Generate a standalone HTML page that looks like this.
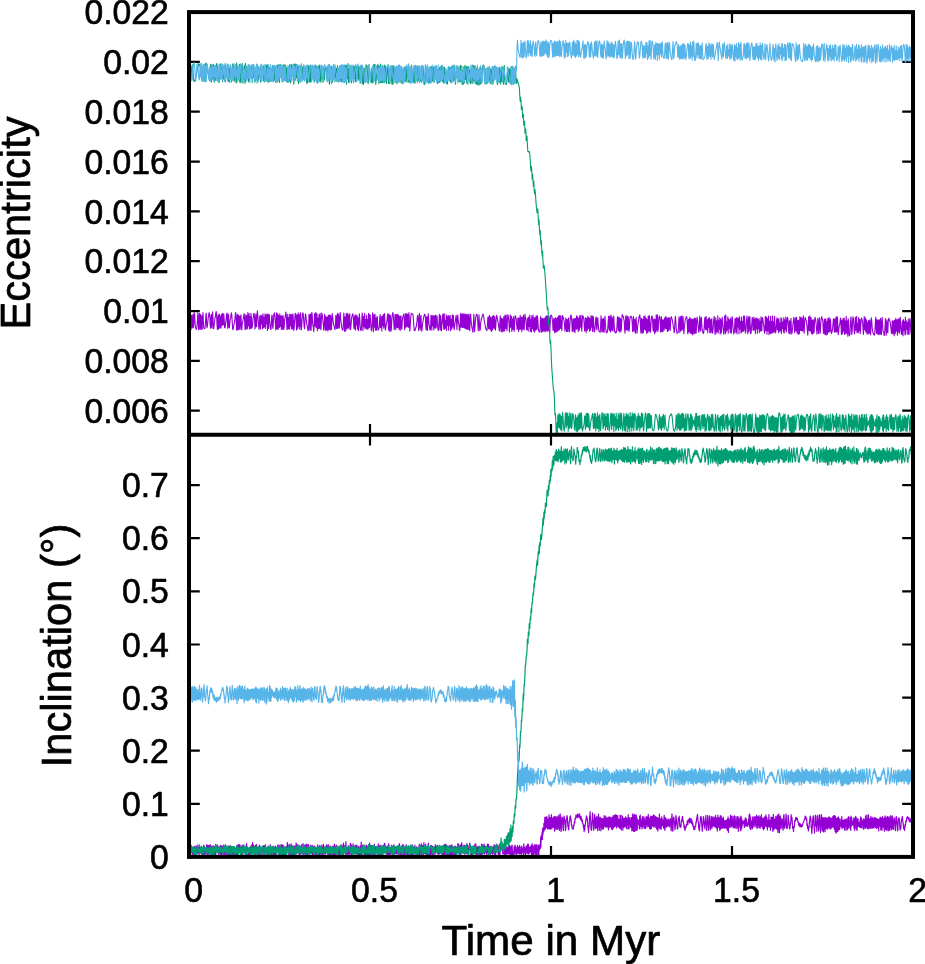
<!DOCTYPE html>
<html lang="en"><head><meta charset="utf-8"><title>Eccentricity and inclination vs time</title>
<style>html,body{margin:0;padding:0;background:#fff}body{width:925px;height:964px;overflow:hidden}svg{display:block}</style>
</head><body>
<svg role="img" aria-label="Eccentricity and inclination versus time in Myr" width="925" height="964" viewBox="0 0 925 964">
<rect width="925" height="964" fill="#fff"/>
<path id="ticks" d="M370.0,12.1v10.8M370.0,424.0v21.6M370.0,856.9v-10.8M551.0,12.1v10.8M551.0,424.0v21.6M551.0,856.9v-10.8M732.0,12.1v10.8M732.0,424.0v21.6M732.0,856.9v-10.8M189.0,410.7h10.8M913.0,410.7h-10.8M189.0,360.9h10.8M913.0,360.9h-10.8M189.0,311.1h10.8M913.0,311.1h-10.8M189.0,261.2h10.8M913.0,261.2h-10.8M189.0,211.4h10.8M913.0,211.4h-10.8M189.0,161.6h10.8M913.0,161.6h-10.8M189.0,111.7h10.8M913.0,111.7h-10.8M189.0,61.9h10.8M913.0,61.9h-10.8M189.0,803.8h10.8M913.0,803.8h-10.8M189.0,750.7h10.8M913.0,750.7h-10.8M189.0,697.6h10.8M913.0,697.6h-10.8M189.0,644.5h10.8M913.0,644.5h-10.8M189.0,591.3h10.8M913.0,591.3h-10.8M189.0,538.2h10.8M913.0,538.2h-10.8M189.0,485.1h10.8M913.0,485.1h-10.8" stroke="#000" stroke-width="2.2" fill="none"/>
<g id="curves-top" transform="scale(0.1)">
<path fill="none" stroke="#9400D3" stroke-width="11" stroke-linejoin="round" d="M1890 3125l4 88 4 74 4-152 4 47 4 112 4-144 4 19 4 111 4-104 4-32 4 133 4-33 4-118 4 17 4 74 4 50 4 14 4 12 4-1 4-27 4-56 4-81 4 50 4 119 4-105 4-58 4 157 4-97 4-52 4 153 4-109 4-27 4 133 4-108 4-58 4 94 4 59 4 9 4-4 4-2 4-37 4-79 4-36 4 96 4 50 4-13 4-38 4-50 4-14 4-34 4 5 4 32 4 90 4 27 4-109 4-30 4 139 4-47 4-115 4 65 4 102 4 0 4-40 4-31 4-37 4-11 4-38 4-13 4 34 4 96 4 48 4-115 4-31 4 143 4-102 4-48 4 140 4-118 4 21 4 97 4-138 4 80 4 35 4-126 4 114 4 1 4-108 4 59 4 80 4 1 4-32 4-31 4-30 4-45 4-10 4 97 4 56 4-143 4 11 4 119 4 7 4-44 4-43 4-6 4-41 4-15 4 21 4 67 4 71 4 9 4-21 4-24 4-19 4-16 4-35 4-42 4-15 4 86 4 89 4-112 4-45 4 158 4-111 4-40 4 145 4-134 4 11 4 121 4-128 4-17 4 114 4 37 4-55 4-20 4-24 4-25 4-27 4-12 4 71 4 89 4-106 4-41 4 144 4-137 4 31 4 100 4-161 4 134 4-40 4-84 4 155 4-128 4 33 4 88 4-152 4 49 4 102 4-8 4-34 4-53 4-24 4-31 4 3 4 61 4 93 4-86 4-62 4 127 4-3 4-118 4-41 4 46 4 46 4 57 4 38 4-30 4-106 4 24 4 107 4-138 4 90 4-13 4-70 4 130 4-149 4 138 4-103 4 21 4 75 4-131 4 145 4-134 4 76 4 13 4-101 4 166 4-161 4 94 4 47 4-142 4 8 4 72 4 34 4 39 4-1 4-59 4-81 4 0 4 109 4 21 4-76 4-59 4-13 4-7 4 44 4 63 4 64 4-87 4-84 4 161 4-82 4-69 4 155 4-139 4 55 4 64 4-137 4 128 4-45 4-63 4 138 4-135 4 48 4 85 4-140 4 40 4 102 4-25 4-63 4-32 4-18 4-36 4 20 4 83 4 74 4-97 4-59 4 149 4-99 4-17 4 116 4-150 4 119 4-28 4-90 4 148 4-141 4 53 4 88 4-153 4 70 4 98 4-29 4-65 4-55 4-22 4 4 4 95 4 67 4-152 4 68 4 70 4-159 4 137 4-35 4-87 4 152 4-90 4-77 4 126 4 45 4-50 4-73 4-40 4-6 4 30 4 59 4 56 4 14 4-88 4-62 4 12 4 44 4 29 4 25 4 25 4 26 4 8 4-42 4-122 4 6 4 150 4-77 4-81 4 164 4-72 4-111 4 24 4 79 4 34 4 21 4 37 4-84 4-98 4 106 4 23 4-142 4 155 4-59 4-80 4 169 4-123 4-4 4 106 4-142 4 83 4 58 4-151 4 95 4 67 4-106 4-59 4 15 4 31 4 39 4 44 4 42 4-42 4-117 4 39 4 121 4-141 4 31 4 106 4-129 4 27 4 112 4-156 4 49 4 96 4-149 4 48 4 104 4-147 4 34 4 107 4-68 4-91 4 26 4 36 4 33 4 21 4 12 4 19 4 13 4-35 4-107 4 4 4 127 4-59 4-92 4 152 4-41 4-105 4 121 4 20 4-109 4-48 4 53 4 38 4 35 4 27 4 15 4 9 4-5 4-62 4-103 4 60 4 124 4-145 4-1 4 140 4-174 4 85 4 67 4-154 4 143 4-40 4-89 4 144 4-69 4-87 4 114 4 46 4-43 4-42 4-41 4-14 4-16 4 5 4 40 4 87 4 19 4-133 4 47 4 95 4-150 4 97 4 6 4-100 4 140 4-113 4 1 4 127 4-102 4-66 4 60 4 66 4 32 4 9 4-12 4-85 4-78 4 71 4 103 4-142 4 48 4 57 4-132 4 150 4-90 4 3 4 84 4-132 4 143 4-102 4 9 4 88 4-155 4 118 4 25 4-132 4 7 4 65 4 65 4 27 4-15 4-75 4-92 4 87 4 104 4-171 4 81 4 44 4-132 4 162 4-122 4 8 4 114 4-139 4 15 4 92 4 30 4 0 4-19 4-23 4-92 4-21 4 133 4-63 4-47 4 143 4-151 4 75 4 21 4-114 4 141 4-56 4-92 4 108 4 59 4-22 4-30 4-25 4-20 4-43 4-24 4 91 4 74 4-162 4 72 4 100 4-161 4 21 4 139 4-31 4-74 4-56 4-16 4-10 4 47 4 56 4 69 4-38 4-117 4 98 4 56 4-151 4 103 4 26 4-131 4 134 4-48 4-79 4 141 4-79 4-49 4 142 4-104 4-43 4 122 4 12 4-66 4-47 4-11 4-16 4-11 4 54 4 101 4-34 4-127 4 137 4-6 4-128 4 123 4-3 4-118 4 134 4-5 4-143 4 105 4 78 4-48 4-77 4-36 4-12 4-3 4 5 4 5 4 5 4 48 4 49 4 59 4-6 4 9 4-22 4-6 4-13 4-23 4-34 4-46 4-12 4 48 4 106 4-53 4-120 4 118 4 50 4-128 4-19 4 118 4 42 4-36 4-41 4-22 4-27 4-19 4-14 4-11 4-1 4 33 4 93 4 32 4-133 4 1 4 137 4-77 4-89 4 41 4 61 4 26 4 27 4 8 4-36 4-114 4 72 4 76 4-146 4 106 4-9 4-92 4 142 4-143 4 84 4 40 4-132 4 130 4-8 4-113 4-2 4 74 4 55 4 19 4-4 4-83 4-75 4 87 4 68 4-142 4 56 4 97 4-49 4-40 4-65 4-14 4 92 4 60 4-157 4 156 4-89 4 14 4 64 4-132 4 157 4-144 4 82 4 11 4-99 4 147 4-142 4 91 4 8 4-105 4 152 4-115 4 29 4 68 4-140 4 120 4-25 4-92 4 113 4 31 4-35 4-28 4-23 4-38 4-20 4 81 4 63 4-113 4-32 4 49 4 32 4 16 4 52 4 6 4-77 4-97 4 140 4-2 4-130 4 130 4 5 4-139 4 124 4 17 4-140 4 121 4 26 4-141 4 111 4 37 4-148 4 108 4 42 4-147 4 93 4 55 4-154 4 93 4 75 4-120 4-47 4 55 4 44 4 27 4 20 4 17 4 19 4-82 4-98 4 74 4 99 4-48 4-56 4-44 4-10 4-15 4-1 4 21 4 62 4 83 4-66 4-93 4 77 4 80 4-7 4-61 4-27 4-29 4 1 4-24 4-4 4-15 4 9 4 26 4 29 4 23 4 15 4 29 4 19 4 2 4 10 4 3 4-48 4-80 4-7 4 113 4 5 4-135 4 77 4 66 4-125 4 19 4 124 4-109 4-42 4 137 4-64 4-80 4 120 4 10 4-123 4 43 4 96 4-38 4-80 4-30 4 15 4 14 4 29 4 15 4 24 4 39 4 20 4-66 4-87 4 69 4 88 4-133 4 12 4 127 4-133 4 21 4 104 4-146 4 41 4 102 4-158 4 98 4 39 4-135 4 92 4 61 4-99 4-61 4 13 4 30 4 44 4 86 4-60 4-111 4 124 4-10 4-99 4 152 4-126 4 16 4 90 4-129 4 50 4 97 4-74 4-71 4-11 4 11 4 22 4 46 4 57 4-3 4-109 4 21 4 112 4-135 4 34 4 81 4-140 4 137 4-43 4-77 4 147 4-145 4 55 4 63 4-140 4 117 4 32 4-117 4-40 4 34 4 26 4 40 4 50 4 6 4-118 4 25 4 105 4-141 4 83 4 12 4-115 4 164 4-98 4-26 4 131 4-164 4 111 4 17 4-134 4 158 4-80 4-49 4 142 4-149 4 51 4 79 4-146 4 109 4 29 4-138 4 39 4 72 4 39 4 8 4 6 4-6 4-52 4-98 4 20 4 137 4-120 4-20 4 136 4-130 4 7 4 116 4-128 4 29 4 105 4-150 4 60 4 82 4-151 4 68 4 85 4-150 4 68 4 77 4-147 4 65 4 101 4-88 4-74 4-12 4 2 4 8 4 29 4 22 4 88 4 4 4-123 4 10 4 136 4-122 4-26 4 143 4-136 4 14 4 118 4-144 4 48 4 86 4-150 4 86 4 54 4-144 4 104 4 26 4-125 4 103 4 46 4-85 4-68 4 12 4 10 4 17 4 20 4 44 4 54 4-24 4-108 4 13 4 124 4-116 4-5 4 118 4-100 4-37 4 111 4 32 4-57 4-61 4-43 4-9 4 14 4 61 4 86 4 0 4-123 4 2 4 128 4-108 4-21 4 137 4-144 4 57 4 54 4-135 4 129 4-46 4-72 4 145 4-130 4 49 4 68 4-146 4 116 4-5 4-113 4 122 4 37 4-93 4-63 4 5 4 10 4 21 4 52 4 65 4-4 4-130 4 27 4 126 4-146 4 48 4 72 4-139 4 121 4-30 4-80 4 138 4-126 4 29 4 88 4-145 4 114 4-3 4-110 4 155 4-77 4-72 4 96 4 52 4 7 4-33 4-51 4-60 4-4 4 116 4 9 4-113 4-5 4 67 4 39 4 28 4 5 4-1 4 6 4-60 4-104 4 51 4 106 4-120 4-6 4 130 4-137 4 35 4 104 4-106 4-54 4 77 4 54 4 23 4 13 4-7 4-3 4-36 4-73 4-47 4 117 4 26 4-145 4 94 4 64 4-169 4 104 4 49 4-133 4 68 4 72 4-113 4-37 4 95 4 65 4 0 4-2 4 13 4-12 4 0 4-60 4-87 4-4 4 130 4 10 4-137 4 70 4 82 4-141 4 9 4 122 4-23 4-96 4-49 4 12 4 6 4 0 4 29 4 17 4 80 4 43 4-99 4-74 4 133 4 7 4-141 4 115 4 29 4-135 4 49 4 98 4-33 4-77 4-38 4 5 4-8 4 4 4 12 4 45 4 93 4-15 4-136 4 59 4 88 4-120 4 13 4 126 4-125 4-34 4 105 4 53 4-34 4-44 4-30 4-20 4-35 4-9 4-10 4 42 4 106 4 36 4-151 4 13 4 137 4-139 4 19 4 114 4-164 4 102 4 29 4-136 4 146 4-60 4-62 4 151 4-136 4 30 4 101 4-167 4 102 4 47 4-153 4 74 4 93 4-12 4-75 4-58 4-18 4 1 4 48 4 88 4 15 4-120 4-3 4 148 4-142 4 31 4 95 4-172 4 154 4-45 4-109 4 168 4-23 4-81 4-40 4-13 4 8 4 60 4 92 4-80 4-71 4 149 4-105 4-14 4 119 4-120 4 48 4 53 4-120 4 85 4 18 4-119 4 127 4-32 4-81 4 137 4-80 4-55 4 128 4-60 4-69 4 104 4 22 4-92 4-42 4-1 4 13 4 16 4 19 4 25 4 31 4 16 4 37 4-21 4-107 4-36 4 51 4 67 4 27 4 26 4-3 4-2 4-6 4-72 4-83 4 23 4 134 4-76 4-83 4 145 4-41 4-110 4 140 4-20 4-114 4 74 4 99 4-41 4-50 4-30 4-27 4-5 4-14 4-6 4 23 4 87 4 62 4-129 4-16 4 128 4-104 4-43 4 159 4-111 4-32 4 148 4-134 4-12 4 156 4-141 4-10 4 140 4-155 4 44 4 111 4-153 4 43 4 103 4-102 4-55 4 16 4 40 4 40 4 46 4 10 4-94 4-69 4 125 4 24 4-118 4-19 4 77 4 47 4 14 4 17 4 8 4-13 4-58 4-72 4-22 4 124 4-9 4-120 4 134 4-52 4-51 4 130 4-144 4 79 4 12 4-98 4 150 4-131 4 36 4 99 4-136 4-6 4 116 4 27 4-31 4-54 4-57 4-26 4 65 4 118 4-105 4-64 4 154 4-123 4 40 4 66 4-156 4 174 4-130 4 64 4 25 4-114 4 163 4-146 4 53 4 82 4-124 4-31 4 53 4 50 4 30 4 35 4-58 4-127 4 82 4 98 4-189 4 170 4-100 4 4 4 80 4-135 4 165 4-144 4 97 4-23 4-65 4 131 4-147 4 73 4 77 4-117 4-49 4 50 4 54 4 46 4 24 4-12 4-45 4-100 4 6 4 137 4-71 4-79 4 162 4-155 4 82 4 6 4-90 4 157 4-172 4 128 4-46 4-33 4 115 4-158 4 148 4-106 4 26 4 76 4-154 4 147 4-29 4-119 4 86 4 84 4-11 4-50 4-70 4-39 4 52 4 126 4-70 4-101 4 151 4-43 4-109 4 77 4 92 4-1 4-43 4-58 4-58 4 11 4 116 4 0 4-132 4 130 4-37 4-72 4 145 4-155 4 107 4-15 4-93 4 152 4-139 4 77 4 19 4-103 4 140 4-115 4 35 4 64 4-142 4 119 4 23 4-124 4-12 4 31 4 34 4 24 4 44 4 24 4-71 4-98 4 146 4-46 4-92 4 173 4-158 4 71 4 52 4-148 4 188 4-137 4 29 4 91 4-169 4 176 4-124 4 18 4 92 4-166 4 173 4-112 4 23 4 75 4-154 4 96 4 70 4-8 4-48 4-73 4-22 4 122 4-24 4-89 4 141 4-139 4 123 4-64 4-17 4 77 4-132 4 158 4-145 4 97 4-29 4-37 4 100 4-145 4 156 4-134 4 64 4 36 4-127 4 151 4-20 4-103 4-24 4 10 4 50 4 75 4 25 4-127 4 20 4 112 4-117 4-40 4 113 4 45 4-23 4-40 4-37 4-28 4-40 4 40 4 116 4-38 4-112 4 128 4-17 4-117 4 158 4-92 4-35 4 141 4-142 4 43 4 93 4-170 4 106 4 31 4-133 4 134 4-17 4-108 4 131 4-33 4-120 4 130 4 42 4-107 4-45 4-3 4 21 4 6 4 27 4 35 4 48 4 39 4-87 4-96 4 121 4 16 4-147 4 153 4-19 4-120 4 163 4-99 4-40 4 142 4-114 4-26 4 132 4-20 4-100 4-38 4 12 4 22 4 36 4 53 4 46 4-45 4-113 4 38 4 112 4-96 4-60 4 116 4 40 4-61 4-75 4-20 4-12 4 25 4 5 4 49 4 84 4 7 4-127 4-18 4 153 4-93 4-62 4 161 4-126 4-7 4 126 4-158 4 76 4 60 4-148 4 112 4 34 4-130 4 21 4 83 4 41 4-5 4-21 4-23 4-46 4-52 4 8 4 113 4 13 4-135 4 83 4 53 4-156 4 127 4 25 4-149 4 95 4 83 4-31 4-44 4-18 4-12 4-38 4-24 4 74 4 91 4-142 4 38 4 96 4-155 4 131 4-15 4-117 4 164 4-137 4 44 4 86 4-176 4 170 4-83 4-41 4 155 4-175 4 22 4 127 4 22 4-12 4-39 4-103 4-37 4 77 4 101 4-40 4-100 4-38 4 13 4 59 4 76 4 24 4-78 4-90 4 130 4-10 4-128 4 164 4-95 4 2 4 92 4-152 4 135 4-41 4-75 4 142 4-36 4-89 4-31 4 5 4 18 4 19 4 60 4 63 4-67 4-112 4 130 4 0 4-117 4 140 4-63 4-59 4 143 4-114 4 2 4 112 4-136 4 49 4 79 4-133 4 45 4 103 4-98 4-70 4 35 4 65 4 32 4 15 4 13 4 6 4 6 4-2 4-53 4-82 4-42 4 119 4 44 4-140 4 42 4 106 4-143 4 55 4 92 4-150 4 45 4 101 4-161 4 56 4 108 4-113 4-59 4 75 4 54 4 21 4 4 4 28 4-16 4-63 4-92 4 48 4 120 4-114 4-41 4 127 4 2 4-99 4-44 4 5 4 7 4 16 4 7 4 41 4 27 4 48 4-6 4-118 4-2 4 132 4-99 4-34 4 149 4-156 4 47 4 86 4-152 4 131 4-39 4-77 4 156 4-159 4 78 4 48 4-135 4 147 4-57 4-103 4 61 4 67 4 42 4 0 4-115 4-18 4 149 4-163 4 110 4-26 4-64 4 132 4-173 4 165 4-131 4 85 4-19 4-49 4 118 4-153 4 69 4 85 4-89 4-71 4 22 4 60 4 67 4-19 4-119 4 51 4 95 4-163"/>
<path fill="none" stroke="#009E73" stroke-width="11" stroke-linejoin="round" d="M1890 737l4-96 4 99 4 68 4-118 4-38 4 117 4 23 4-111 4-33 4 68 4 68 4 27 4 4 4-13 4-4 4-8 4-13 4-14 4-30 4-22 4-25 4-15 4-11 4-21 4 2 4 0 4 17 4 10 4 13 4 18 4 36 4 57 4 21 4-51 4-101 4-15 4 106 4 65 4-45 4-99 4-35 4 1 4-9 4 20 4 25 4 14 4 12 4 38 4 6 4 40 4 20 4-18 4-88 4-57 4 100 4 77 4-117 4-50 4 137 4 1 4-148 4 73 4 107 4-132 4-34 4 142 4 6 4-119 4-50 4 14 4 19 4 34 4 48 4 36 4 41 4-86 4-100 4 101 4 48 4-151 4 143 4-45 4-59 4 140 4-170 4 142 4-64 4-30 4 95 4-142 4 168 4-155 4 109 4-37 4-46 4 117 4-164 4 172 4-123 4-2 4 135 4-107 4-67 4 55 4 83 4 36 4-46 4-99 4-36 4 129 4 22 4-156 4 178 4-107 4 13 4 76 4-152 4 185 4-199 4 189 4-147 4 86 4-14 4-47 4 104 4-159 4 179 4-176 4 72 4 109 4-78 4-95 4-18 4 98 4 98 4-149 4 32 4 79 4-141 4 179 4-199 4 184 4-154 4 102 4-35 4-28 4 83 4-121 4 153 4-168 4 159 4-142 4 99 4-38 4-34 4 88 4-127 4 171 4-173 4 115 4 10 4-125 4 50 4 97 4 23 4-59 4-69 4-32 4 130 4-42 4-77 4 150 4-159 4 139 4-99 4 37 4 26 4-97 4 151 4-171 4 162 4-137 4 87 4-29 4-50 4 125 4-155 4 51 4 98 4 15 4-45 4-76 4-49 4 131 4-25 4-102 4 170 4-160 4 61 4 98 4-145 4 4 4 101 4 35 4-1 4-32 4-42 4-61 4-27 4 60 4 104 4-74 4-87 4 148 4-68 4-66 4 156 4-136 4 14 4 116 4-168 4 92 4 60 4-154 4 90 4 85 4-124 4-47 4-10 4 22 4 41 4 45 4 68 4-47 4-123 4 116 4 18 4-136 4 145 4-31 4-110 4 158 4-78 4-58 4 147 4-127 4 17 4 115 4-162 4 77 4 72 4-166 4 78 4 106 4-78 4-95 4-14 4 21 4 25 4 46 4 65 4 42 4-88 4-115 4 113 4 49 4-157 4 126 4 9 4-137 4 168 4-80 4-66 4 172 4-120 4-54 4 96 4 57 4 6 4-18 4-41 4-26 4-67 4 9 4 117 4-27 4-119 4 132 4 25 4-129 4-8 4 63 4 52 4 35 4 16 4-11 4-73 4-96 4 24 4 141 4-83 4-81 4 166 4-101 4-65 4 162 4-33 4-109 4-23 4 12 4 23 4 68 4 65 4-47 4-126 4 136 4-22 4-105 4 166 4-100 4-51 4 159 4-172 4 89 4 54 4-151 4 162 4-84 4-44 4 138 4-170 4 110 4 19 4-120 4 160 4-119 4-25 4 125 4-10 4-90 4-35 4 1 4 7 4 57 4 75 4-9 4-142 4 93 4 48 4-154 4 198 4-175 4 103 4-16 4-86 4 166 4-170 4 51 4 108 4-32 4-51 4-49 4-32 4 63 4 94 4-136 4 82 4 8 4-86 4 128 4-157 4 160 4-126 4 64 4 14 4-87 4 135 4-157 4 149 4-86 4-38 4 138 4-58 4-104 4 7 4 69 4 78 4 11 4-91 4-82 4 141 4-19 4-120 4 189 4-183 4 128 4-39 4-57 4 133 4-176 4 171 4-119 4 33 4 58 4-140 4 178 4-157 4 101 4-11 4-95 4 159 4-169 4 131 4-37 4-85 4 150 4-33 4-99 4-19 4-4 4 18 4 107 4 18 4-144 4 128 4-10 4-111 4 165 4-167 4 89 4 36 4-138 4 185 4-132 4-7 4 147 4-156 4-8 4 123 4 24 4-65 4-63 4-50 4 1 4 4 4 69 4 96 4 17 4-117 4-74 4 20 4 57 4 59 4 35 4 4 4-132 4 11 4 133 4-163 4 79 4 74 4-181 4 168 4-43 4-123 4 132 4 68 4-46 4-49 4-29 4-41 4-34 4 14 4 125 4 52 4-175 4 91 4 73 4-185 4 184 4-113 4 2 4 115 4-175 4 170 4-106 4-4 4 114 4-177 4 159 4-60 4-87 4 136 4 36 4-72 4-71 4-37 4 49 4 132 4-118 4-30 4 148 4-174 4 144 4-69 4-28 4 132 4-184 4 88 4 100 4-112 4-75 4 11 4 46 4 54 4 58 4 0 4-120 4-38 4 170 4-118 4-7 4 103 4-158 4 164 4-142 4 93 4-20 4-52 4 126 4-157 4 159 4-124 4-2 4 135 4-66 4-77 4-25 4 40 4 102 4-30 4-116 4 155 4-141 4 96 4-8 4-71 4 126 4-165 4 160 4-90 4-46 4 144 4-29 4-105 4-41 4 33 4 69 4 62 4 4 4-111 4-29 4 154 4-116 4-1 4 112 4-172 4 150 4-74 4-8 4 85 4-151 4 150 4-94 4 7 4 97 4-155 4 149 4-91 4-2 4 100 4-160 4 145 4-22 4-121 4 60 4 97 4 28 4-2 4-13 4-88 4-85 4 116 4 28 4-134 4 149 4-61 4-70 4 146 4-129 4 27 4 94 4-156 4 97 4 32 4-131 4 143 4-39 4-101 4 147 4-66 4-82 4 141 4 6 4-91 4-44 4-16 4-2 4 19 4 95 4 62 4-129 4-17 4 134 4-89 4-61 4 148 4-71 4-86 4 141 4-21 4-135 4 129 4 35 4-146 4 70 4 93 4-101 4-60 4 36 4 58 4 38 4 14 4 16 4 4 4 2 4-49 4-90 4-33 4 123 4 12 4-127 4 93 4 54 4-150 4 101 4 36 4-154 4 137 4-14 4-118 4 146 4-28 4-121 4 113 4 72 4-51 4-61 4-29 4-10 4-31 4 8 4 39 4 104 4 2 4-146 4 96 4 58 4-169 4 158 4-39 4-109 4 182 4-102 4-37 4 136 4-173 4 79 4 82 4-177 4 142 4-7 4-125 4 166 4-83 4-79 4 175 4-94 4-84 4 23 4 19 4 32 4 27 4 72 4-21 4-145 4 82 4 80 4-182 4 137 4 17 4-149 4 159 4-34 4-119 4 172 4-82 4-72 4 162 4-129 4-12 4 146 4-145 4 17 4 130 4-164 4 55 4 103 4-152 4 22 4 122 4-28 4-92 4-31 4-27 4-6 4 0 4 37 4 110 4 38 4-145 4 11 4 138 4-103 4-52 4 148 4-65 4-91 4 134 4-20 4-126 4 104 4 66 4-148 4 39 4 110 4-92 4-75 4 132 4 41 4-96 4-71 4-9 4 3 4-4 4 11 4 11 4 26 4 23 4 54 4 56 4-44 4-121 4 15 4 132 4-39 4-118 4 83 4 86 4-121 4-39 4 136 4-5 4-143 4 83 4 91 4-89 4-99 4 82 4 93 4 12 4 4 4 1 4-10 4-26 4-53 4-76 4 6 4 131 4 4 4-135 4 25 4 121 4-44 4-121 4 89 4 89 4-107 4-71 4 121 4 51 4-140 4-11 4 144 4-46 4-125 4 65 4 108 4-5 4-42 4 15 4 18 4 5 4 21 4 11 4 21 4 78 4 58 4-41 4 26 4 96 4-33 4 8 4 105 4-35 4 2 4 110 4-35 4-3 4 117 4-43 4 8 4 109 4-32 4-13 4 83 4 68 4 9 4-7 4 1 4 2 4 27 4 46 4 85 4 35 4-46 4 48 4 80 4-50 4 65 4 58 4-55 4 100 4 29 4-44 4 38 4 66 4 52 4 37 4 38 4-18 4-20 4 81 4 79 4-51 4 84 4 67 4-44 4 103 4 43 4-41 4 108 4 42 4-48 4 97 4 74 4-20 4-5 4 44 4 42 4 57 4 64 4 59 4 68 4 70 4 35 4-26 4 54 4 123 4 15 4-1 4 120 4 54 4-32 4 83 4 116 4 83 4 53 4 55 4 53 4 47 4 15 4 29 4 107 4 108 4-21 4 73 4 123 4-97 4 37 4 60 4-177 4 97 4 24 4-136 4 146 4-55 4-82 4 153 4-110 4-25 4 147 4-92 4-93 4 50 4 69 4 42 4 27 4-30 4-85 4-68 4 104 4 45 4-149 4 125 4-3 4-120 4 181 4-149 4 53 4 69 4-158 4 147 4-26 4-109 4 120 4 29 4-72 4-80 4 6 4 23 4 28 4 61 4 49 4-44 4-112 4 32 4 133 4-135 4 4 4 138 4-164 4 53 4 92 4-165 4 104 4 50 4-158 4 122 4 29 4-155 4 72 4 101 4 10 4-23 4-13 4-19 4-25 4-70 4 0 4 134 4-51 4-110 4 135 4-20 4-115 4 128 4 14 4-136 4 34 4 115 4 19 4-38 4-40 4-23 4-17 4-11 4-28 4-14 4 64 4 87 4-50 4-105 4 147 4-53 4-89 4 172 4-137 4 29 4 79 4-152 4 159 4-67 4-63 4 158 4-128 4-44 4 137 4 27 4-64 4-55 4-46 4-17 4 66 4 98 4-17 4-137 4 101 4 22 4-117 4 162 4-137 4 59 4 42 4-134 4 163 4-64 4-95 4 77 4 87 4 7 4-30 4-51 4-73 4-23 4 116 4 48 4-160 4 109 4 10 4-113 4 174 4-176 4 121 4-29 4-63 4 140 4-175 4 157 4-91 4-1 4 81 4-147 4 172 4-154 4 80 4 43 4-145 4 164 4-34 4-122 4 31 4 91 4 52 4-21 4-59 4-98 4 46 4 127 4-102 4-41 4 155 4-184 4 125 4-26 4-82 4 167 4-179 4 144 4-53 4-62 4 146 4-188 4 145 4-41 4-62 4 144 4-183 4 147 4-32 4-103 4 167 4-58 4-115 4 4 4 32 4 41 4 91 4-13 4-124 4 32 4 104 4-167 4 137 4-27 4-87 4 154 4-143 4 53 4 58 4-148 4 138 4-10 4-124 4 72 4 101 4-5 4-71 4-36 4-31 4-37 4 19 4 96 4 69 4-95 4-80 4 146 4-27 4-121 4 148 4-31 4-117 4 140 4 3 4-122 4 2 4 82 4 43 4 17 4 8 4-3 4-3 4-21 4-31 4-63 4-39 4-6 4 10 4 9 4 22 4 19 4 22 4 52 4 23 4-80 4-74 4 107 4 36 4-118 4 25 4 109 4-101 4-42 4 115 4-17 4-117 4 89 4 65 4-109 4-37 4 65 4 45 4 25 4 8 4 16 4-1 4-1 4-21 4-39 4-47 4-31 4-11 4-2 4-6 4-13 4 3 4 9 4 24 4 42 4 48 4 30 4 11 4 10 4-9 4-14 4-2 4-53 4-85 4 17 4 135 4-61 4-105 4 128 4 22 4-153 4 96 4 75 4-154 4 70 4 79 4-161 4 94 4 49 4-151 4 143 4-30 4-98 4 165 4-126 4 11 4 109 4-167 4 104 4 59 4-71 4-69 4-23 4 15 4 58 4 94 4-104 4-22 4 112 4-151 4 170 4-161 4 144 4-127 4 102 4-72 4 45 4-11 4-24 4 57 4-93 4 127 4-163 4 182 4-184 4 162 4-130 4 97 4-23 4-75 4 137 4-129 4-16 4 101 4 49 4-16 4-66 4-70 4-6 4 109 4 31 4-140 4 102 4 12 4-115 4 166 4-133 4 19 4 108 4-53 4-69 4-35 4-3 4 55 4 98 4-66 4-73 4 149 4-128 4 22 4 97 4-156 4 104 4 28 4-133 4 38 4 74 4 29 4 27 4-3 4-76 4-88 4 62 4 105 4-29 4-71 4-53 4-7 4 40 4 90 4 25 4-129 4 4 4 140 4-157 4 84 4 7 4-97 4 151 4-163 4 137 4-58 4-83 4 114 4 45 4-25 4-55 4-65 4-1 4 93 4 42 4-149 4 168 4-135 4 85 4-50 4 15 4 19 4-52 4 94 4-133 4 162 4-174 4 139 4-21 4-116 4 71 4 98 4-6 4-51 4-79 4-34 4 82 4 97 4-117 4-50 4 167 4-165 4 98 4 5 4-113 4 161 4-91 4-82 4 83 4 80 4 21 4 4 4-21 4-74 4-80 4 67 4 97 4-154 4 54 4 101 4-106 4-50 4-19 4 22 4 27 4 91 4 35 4-158 4 53 4 108 4-169 4 89 4 71 4-161 4 96 4 77 4-135 4-43 4 88 4 52 4 21 4 26 4 2 4-26 4-28 4-93 4-42 4 98 4 72 4-135 4 5 4 145 4-141 4-3 4 146 4-130 4-45 4 167 4-108 4-54 4 159 4-78 4-91 4 136 4-16 4-119 4 106 4 43 4-140 4 43 4 108 4-29 4-77 4-49 4-8 4-9 4 15 4 18 4 46 4 80 4-4 4-121 4 3 4 138 4-84 4-64 4 139 4-71 4-78 4 151 4-95 4-44 4 162 4-128 4-21 4 132 4-130 4 26 4 118 4-151 4 31 4 119 4-71 4-95 4-27 4 2 4 7 4 28 4 100 4 65 4-154 4 0 4 138 4-154 4 78 4 54 4-152 4 145 4-24 4-120 4 103 4 61 4-31 4-47 4-20 4-24 4-12 4-23 4 6 4 93 4 58 4-129 4 15 4 137 4-153 4 18 4 136 4-170 4 41 4 124 4-165 4 39 4 124 4-133 4-39 4 136 4 15 4-71 4-40 4-35 4-9 4-4 4 1 4 28 4 36 4 95 4 0 4-107 4-38 4 133 4-26 4-117 4 106 4 33 4-126 4 60 4 89 4-132 4-2 4 131 4-26 4-82 4-35 4-18 4 5 4-7 4 20 4 70 4 87 4-109 4-52 4 136 4-46 4-113 4 94 4 82 4-5 4-57 4-37 4-31 4-27 4-6 4 48 4 106 4 7 4-119 4-53 4 30 4 56 4 38 4 46 4 16 4-16 4-101 4-67 4 118 4 28 4-152 4 142 4-12 4-117 4 157 4-36 4-110 4-5 4 31 4 67 4 64 4-17 4-136 4 40 4 99 4-154 4 146 4-68 4-38 4 119 4-160 4 159 4-124 4 44 4 76 4-162 4 102 4 69 4-37 4-49 4-56 4-28 4 89 4 67 4-137 4 112 4-51 4-14 4 68 4-119 4 167 4-188 4 181 4-145 4 96 4-34 4-63 4 148 4-120 4-52 4 60 4 56 4 35 4 12 4-67 4-96 4 88 4 52 4-132 4 144 4-95 4-17 4 130 4-105 4-60 4 53 4 60 4 42 4 14 4-29 4-88 4-62 4 101 4 71 4-154 4 107 4-1 4-105 4 165 4-185 4 156 4-89 4-8 4 94 4-147 4 175 4-161 4 83 4 26 4-120 4 170 4-83 4-86 4 61 4 75 4 34 4-39 4-88 4-39 4 148 4-63 4-58 4 124 4-157 4 169 4-175 4 159 4-120 4 63 4 58 4-156 4 6 4 72 4 84 4-13 4-153 4 159 4-126 4 88 4-43 4 15 4 12 4-44 4 67 4-102 4 136 4-150 4 169 4-178 4 176 4-171 4 154 4-140 4 132 4-102 4 64 4-36 4 14 4 27 4-73 4 137 4-138 4-40 4 80 4 97 4-79 4-81 4 149 4-147 4 127 4-106 4 73 4-43 4 1 4 42 4-86 4 129 4-156 4 172 4-168 4 135 4-88 4 30 4 44 4-104 4 146 4-168 4 142 4-49 4-71 4 128 4 6 4-61 4-40 4-38 4-16 4 119 4 20 4-146 4 149 4-53 4-66 4 148 4-128 4-16 4 122 4-3 4-91 4-50 4-7 4 26 4 73 4 68 4-26 4-120 4 57 4 88 4-154 4 98 4 23 4-137 4 171 4-107 4 10 4 95 4-150 4 139 4-65 4-48 4 119 4-153 4 124 4-6 4-106 4 143 4-115 4-13 4 135 4-41 4-97 4-31 4 7 4 35 4 81 4 50 4-101 4-62 4 143 4-1 4-94 4-44 4-13 4 16"/>
<path fill="none" stroke="#56B4E9" stroke-width="11" stroke-linejoin="round" d="M1890 645l4 10 4 10 4 30 4 6 4 49 4 45 4 12 4-23 4-67 4-57 4-17 4-14 4-3 4 33 4 61 4 71 4 24 4-52 4-78 4-48 4 6 4 20 4 39 4 53 4 43 4 0 4-91 4-68 4 134 4-5 4-137 4 164 4-83 4-43 4 138 4-158 4 107 4-11 4-103 4 174 4-140 4 3 4 138 4-65 4-113 4 8 4 36 4 56 4 45 4 2 4-101 4-14 4 143 4-142 4 50 4 69 4-149 4 158 4-130 4 66 4 29 4-110 4 149 4-147 4 116 4-30 4-89 4 151 4-137 4 15 4 98 4 35 4-35 4-66 4-71 4 79 4 78 4-152 4 136 4-76 4-7 4 91 4-154 4 167 4-144 4 82 4-11 4-64 4 146 4-181 4 170 4-113 4 28 4 49 4-130 4 167 4-70 4-86 4 83 4 60 4 9 4-9 4-63 4-74 4 19 4 137 4-116 4-8 4 117 4-165 4 163 4-116 4 41 4 40 4-107 4 151 4-161 4 122 4-48 4-25 4 95 4-144 4 139 4-76 4-50 4 135 4-23 4-111 4-26 4 36 4 66 4 35 4 40 4-58 4-100 4 33 4 123 4-121 4 6 4 112 4-125 4-31 4 101 4 54 4-4 4-43 4-89 4-27 4 137 4-23 4-111 4 179 4-173 4 127 4-70 4-10 4 86 4-145 4 161 4-59 4-102 4 4 4 72 4 69 4 14 4-129 4 25 4 98 4-155 4 188 4-187 4 157 4-114 4 57 4-6 4-47 4 98 4-124 4 140 4-161 4 165 4-163 4 160 4-136 4 83 4-12 4-57 4 142 4-147 4-33 4 70 4 52 4 44 4-4 4-126 4 15 4 117 4-168 4 137 4-69 4-22 4 125 4-171 4 158 4-102 4-13 4 122 4-153 4 82 4 78 4-64 4-70 4-19 4-11 4 51 4 107 4-81 4-75 4 158 4-112 4-14 4 132 4-157 4 55 4 84 4-156 4 114 4 14 4-123 4 134 4-36 4-95 4 156 4-98 4-24 4 126 4-151 4 69 4 78 4-143 4 14 4 83 4 40 4 8 4-3 4-53 4-100 4 52 4 112 4-149 4 69 4 49 4-141 4 153 4-80 4-32 4 120 4-144 4 92 4 9 4-120 4 165 4-80 4-65 4 128 4-3 4-87 4-53 4 1 4 48 4 52 4 55 4 0 4-112 4-43 4 142 4-39 4-102 4 161 4-71 4-105 4 93 4 76 4 5 4-19 4-59 4-74 4 69 4 82 4-141 4 74 4 46 4-136 4 127 4-1 4-131 4 62 4 103 4 3 4-46 4-40 4-43 4-23 4-16 4 7 4 81 4 77 4-87 4-74 4 135 4-31 4-93 4 138 4-62 4-71 4 140 4-103 4-25 4 142 4-141 4 28 4 110 4-149 4 31 4 119 4-42 4-48 4-39 4-7 4-33 4 22 4 97 4 7 4-116 4 76 4 78 4-70 4-81 4-17 4 8 4 15 4-1 4 27 4 33 4 58 4 33 4-112 4-48 4 152 4-50 4-114 4 128 4 23 4-140 4 74 4 94 4-133 4-23 4 137 4-60 4-103 4 132 4 20 4-116 4-35 4 53 4 10 4 26 4 27 4 55 4-29 4-115 4 21 4 129 4-103 4-58 4 147 4-59 4-97 4 133 4-9 4-130 4 118 4 50 4-166 4 91 4 87 4-177 4 57 4 117 4-146 4 17 4 128 4-30 4-101 4-51 4-6 4 16 4 0 4 17 4 94 4 54 4-91 4-55 4 136 4-72 4-69 4 138 4-55 4-99 4 125 4 48 4-45 4-46 4-25 4-46 4-14 4 59 4 115 4-30 4-83 4-58 4-8 4 19 4 12 4 13 4 56 4 79 4-54 4-116 4 113 4 52 4-124 4-38 4 32 4 32 4 22 4 27 4 52 4 2 4-122 4-47 4 97 4 65 4 8 4-7 4-33 4-31 4-44 4-52 4 7 4 95 4 66 4-19 4-61 4-27 4-6 4-38 4-11 4 62 4 98 4-103 4-47 4 127 4 11 4-82 4-42 4-15 4-11 4 49 4 76 4 20 4-122 4 40 4 102 4-150 4 48 4 95 4-147 4 64 4 72 4-138 4 73 4 69 4-152 4 80 4 86 4-141 4-5 4 119 4 24 4-47 4-51 4-22 4-21 4-13 4-7 4-14 4 54 4 80 4 36 4-108 4-33 4 136 4-35 4-119 4 12 4 55 4 21 4 34 4 16 4 31 4-39 4-125 4 62 4 102 4-153 4 35 4 113 4-159 4 67 4 91 4-165 4 94 4 65 4-164 4 126 4 8 4-120 4 134 4-58 4-76 4 165 4-117 4-25 4 144 4-133 4-15 4 140 4-28 4-57 4-41 4-22 4-19 4-5 4 29 4 135 4-37 4-138 4 160 4-48 4-82 4 169 4-152 4 32 4 111 4-166 4 56 4 107 4-50 4-74 4-34 4-16 4 24 4 72 4 77 4-16 4-129 4-15 4 114 4 52 4-33 4-59 4-62 4-19 4 106 4 64 4-151 4 84 4 33 4-131 4 159 4-74 4-95 4 100 4 76 4 7 4-34 4-61 4-58 4-38 4 94 4 95 4-166 4 61 4 79 4-160 4 184 4-151 4 72 4 30 4-108 4 160 4-150 4 43 4 99 4-105 4-70 4 45 4 53 4 48 4 28 4 2 4-104 4-68 4 125 4 15 4-139 4 164 4-103 4-9 4 104 4-164 4 169 4-113 4 13 4 89 4-140 4 150 4-102 4 14 4 74 4-152 4 147 4-42 4-86 4 78 4 43 4 40 4-1 4-26 4-90 4-26 4 127 4-96 4-8 4 97 4-142 4 135 4-67 4-27 4 107 4-146 4 128 4-54 4-54 4 142 4-165 4 85 4 73 4-123 4-51 4 37 4 60 4 50 4 26 4-72 4-96 4 126 4 0 4-114 4 166 4-130 4 31 4 67 4-137 4 149 4-102 4 24 4 64 4-124 4 143 4-95 4 1 4 98 4-150 4 65 4 92 4-79 4-66 4-14 4 15 4 18 4 31 4 50 4 49 4-56 4-108 4 43 4 95 4 21 4-10 4-45 4-58 4-62 4 102 4 60 4-155 4 116 4 2 4-102 4 158 4-144 4 66 4 42 4-141 4 170 4-119 4 19 4 93 4-167 4 143 4-56 4-46 4 143 4-162 4 83 4 18 4-118 4 168 4-100 4-45 4 140 4-14 4-80 4-47 4-23 4 12 4 99 4 72 4-124 4-31 4 153 4-147 4 47 4 88 4-156 4 74 4 81 4-110 4-43 4 22 4 54 4 39 4 34 4 23 4-60 4-80 4-37 4 116 4 39 4-155 4 106 4 33 4-150 4 137 4-6 4-118 4 151 4-73 4-72 4 155 4-74 4-77 4 94 4 51 4-34 4-37 4-22 4-21 4-36 4-6 4 49 4 100 4-13 4-114 4-18 4 45 4 30 4 17 4 27 4 16 4 16 4 1 4-91 4-64 4 4 4 40 4 26 4 21 4 20 4 13 4 47 4-14 4-72 4-89 4 63 4 114 4-84 4-92 4 111 4 68 4-160 4 14 4 134 4-77 4-94 4 51 4-35 4-188 4-88 4 37 4 58 4 25 4 16 4 15 4 21 4 0 4-74 4-96 4 62 4 112 4-143 4 27 4 119 4-156 4 50 4 94 4-133 4-24 4 82 4 61 4 26 4-17 4-74 4-83 4 72 4 84 4-154 4 118 4-26 4-60 4 119 4-152 4 144 4-82 4-9 4 109 4-116 4-40 4 12 4 25 4 37 4 57 4 21 4-114 4-29 4 117 4 18 4-52 4-59 4-26 4-15 4 9 4 13 4 53 4 80 4 0 4-110 4-25 4 140 4-65 4-87 4 144 4-58 4-87 4 145 4-54 4-86 4 118 4-16 4-119 4 124 4 27 4-140 4 77 4 88 4-128 4-23 4 148 4-30 4-87 4-36 4-16 4 1 4 3 4 8 4 91 4 67 4-124 4-22 4 137 4-66 4-88 4 157 4-63 4-84 4 135 4-39 4-104 4 145 4-38 4-101 4 139 4-63 4-94 4 167 4-76 4-75 4 135 4 14 4-68 4-40 4-16 4-34 4 1 4 69 4 104 4-142 4 22 4 108 4-165 4 121 4-7 4-91 4 140 4-98 4-37 4 128 4-54 4-85 4 4 4 45 4 61 4 30 4 18 4-41 4-98 4-21 4 133 4-16 4-135 4 159 4-57 4-81 4 154 4-132 4 30 4 87 4-158 4 140 4-23 4-118 4 166 4-49 4-100 4 75 4 79 4-2 4-26 4-27 4-26 4-20 4-42 4-22 4 91 4 81 4-122 4-12 4 138 4-126 4-10 4 118 4-34 4-74 4-25 4-16 4 1 4 27 4 72 4 56 4-101 4-37 4 136 4-64 4-90 4 25 4 56 4 31 4 32 4 21 4-26 4-96 4-40 4 136 4-26 4-122 4 157 4-63 4-93 4 126 4 39 4-80 4-43 4-34 4-7 4 8 4 53 4 70 4 29 4-129 4 18 4 121 4-134 4 23 4 111 4-99 4-71 4 32 4 36 4 23 4 51 4 37 4-62 4-121 4 103 4 53 4-144 4 138 4-50 4-72 4 141 4-130 4 53 4 66 4-147 4 145 4-70 4-57 4 140 4-125 4 5 4 123 4-48 4-102 4-14 4 26 4 40 4 63 4 43 4-9 4-102 4-65 4 136 4-5 4-141 4 170 4-81 4-53 4 149 4-126 4-21 4 143 4-20 4-81 4-44 4-25 4-10 4 40 4 66 4 77 4-41 4-125 4 92 4 49 4-148 4 128 4 1 4-127 4 173 4-91 4-80 4 170 4-42 4-113 4-4 4 50 4 55 4 48 4 16 4-6 4-33 4-78 4-62 4 38 4 113 4 26 4-62 4-55 4-30 4-29 4 6 4 0 4 37 4 70 4 50 4-17 4-55 4-57 4-29 4-11 4 15 4 43 4 87 4 27 4-129 4 4 4 120 4-115 4 16 4 97 4-152 4 110 4-7 4-102 4 169 4-137 4 27 4 95 4-172 4 153 4-29 4-127 4 136 4 54 4-89 4-77 4-18 4 5 4 35 4 65 4 75 4-20 4-123 4 21 4 126 4-169 4 99 4 25 4-113 4 169 4-173 4 117 4-32 4-77 4 152 4-155 4 102 4-18 4-90 4 139 4-40 4-111 4 51 4 78 4 34 4 1 4 0 4-47 4-77 4-28 4 99 4 56 4-152 4 72 4 76 4-161 4 83 4 86 4-129 4-35 4 51 4 35 4 30 4 22 4 18 4 16 4-29 4-91 4-62 4 115 4 57 4-46 4-76 4-18 4-8 4-10 4-13 4 5 4 14 4 56 4 80 4-5 4-121 4 34 4 111 4-114 4-11 4 122 4-133 4 13 4 116 4-141 4 52 4 94 4-157 4 75 4 76 4-137 4 2 4 119 4 30 4-33 4-38 4-38 4-34 4-20 4 6 4 104 4 43 4-142 4 41 4 98 4-164 4 141 4-53 4-50 4 143 4-181 4 149 4-34 4-125 4 108 4 85 4 3 4-15 4-68 4-91 4 65 4 82 4-146 4 114 4-7 4-110 4 153 4-96 4-32 4 132 4-131 4 19 4 114 4-117 4-44 4 96 4 58 4 14 4-8 4-6 4-5 4-17 4-46 4-61 4-19 4 102 4 59 4-133 4 1 4 125 4-74 4-85 4 126 4 12 4-125 4 48 4 102 4-100 4-54 4 111 4 20 4-128 4 10 4 105 4 41 4-20 4-24 4-25 4-23 4-23 4-15 4-39 4 1 4 78 4 99 4-67 4-96 4-22 4 50 4 7 4 37 4 22 4 31 4 24 4-92 4-60 4 116 4 15 4-112 4-36 4 27 4 51 4 37 4 48 4-12 4-115 4 28 4 98 4-141 4 116 4-64 4 0 4 79 4-139 4 162 4-143 4 79 4 45 4-133 4 0 4 57 4 46 4 39 4 17 4-134 4-26 4 167 4-156 4 60 4 52 4-134 4 161 4-119 4 18 4 92 4-161 4 154 4-64 4-73 4 161 4-104 4-78 4 102 4 68 4 10 4-9 4-28 4-23 4-88 4-19 4 106 4 42 4-133 4 69 4 72 4-157 4 110 4 35 4-154 4 128 4 19 4-136 4 70 4 99 4-32 4-71 4-46 4-11 4-17 4 28 4 88 4 50 4-121 4-4 4 131 4-129 4 11 4 113 4-155 4 99 4 23 4-129 4 150 4-76 4-40 4 136 4-142 4 67 4 47 4-148 4 168 4-94 4-47 4 147 4-109 4-59 4 75 4 44 4 27 4 15 4-63 4-92 4 85 4 73 4-75 4-69 4-4 4 40 4 44 4 46 4 31 4-33 4-71 4-69 4 42 4 69 4 44 4 13 4-14 4-14 4-64 4-70 4 37 4 123 4-117 4 0 4 136 4-140 4-43 4 56 4 62 4 49 4-34 4-116 4 50 4 77 4-144 4 157 4-128 4 74 4-5 4-60 4 116 4-158 4 173 4-164 4 133 4-92 4 37 4 38 4-115 4 164 4-159 4 67 4 89 4-45 4-85 4-28 4-18 4 36 4 105 4 10 4-150 4 110 4 51 4-161 4 102 4 75 4-90 4-78 4-1 4 11 4-5 4 22 4 23 4 39 4 36 4 47 4-77 4-107 4 99 4 83 4-122 4-37 4 141 4-16 4-113 4-19 4 61 4 47 4 36 4 13 4 11 4-2 4 2 4 6 4-34 4-84 4-64 4 62 4 111 4-73 4-93 4 102 4 57 4-140 4 10 4 132 4-71 4-90 4 133 4-1 4-132 4 71 4 80 4-136 4 36 4 117 4-115 4-26 4 129 4-50 4-107 4 35 4 62 4 27 4 32 4 19 4-16 4-119 4-19 4 156 4-107 4-56 4 158 4-131 4 1 4 126 4-138 4 27 4 100 4-52 4-62 4-41 4-3 4 9 4 57 4 99 4-75 4-95 4 120 4 60 4-55 4-49 4-33 4-34 4 10 4 91 4 64 4-124 4 10 4 108 4-148 4 103 4 8 4-119 4 162 4-117 4 21 4 85 4-146 4 136 4-69 4-36 4 127 4-160 4 114 4-8 4-110 4 92 4 66 4-1 4-12 4-44 4-85 4 17 4 137 4-43 4-112 4-8 4 53 4 51 4 32 4 28 4-37 4-89 4-47 4 156 4-48 4-99 4 158 4-128 4 46 4 56 4-135 4 164 4-144 4 69 4 26 4-112 4 172 4-175 4 105 4-8 4-71 4 144 4-148 4 61 4 69 4-116 4-42 4 86 4 68 4 4 4-26 4-57 4-61 4 25 4 129 4-52 4-117 4 153 4-103 4 33 4 50 4-128 4 167 4-154 4 106 4-28 4-48 4 117 4-162 4 177 4-152 4 71 4 21 4-90 4 150 4-161 4 77 4 77 4-143 4-20 4 76 4 71 4 31 4-36 4-104 4-41 4 116 4 22 4-130 4 158 4-127 4 48 4 41 4-125 4 174 4-143 4-6 4 133 4-9 4-92 4-46 4-12 4 76 4 103 4-91 4-97 4 119 4 57 4-97 4-65 4-12 4 33 4 51 4 75 4 13 4-122 4-32 4 159 4-128 4 24 4 81 4-151 4 164 4-130 4 62 4 34 4-106 4 149 4-160 4 117 4-43 4-51 4 134 4-163 4 133 4-74 4-8 4 105 4-166 4 104 4 66 4-79 4-65 4-13 4 9 4 84 4 72 4-140 4 40 4 74 4-145 4 153 4-98 4 6 4 82 4-136 4 135 4-73 4-10 4 89 4-131 4 111 4-67 4-23 4 116 4-142 4 113 4-7 4-118 4 116 4 53 4-70 4-75 4-23 4-10 4 12 4 39 4 71 4 61 4-43 4-140 4 96 4 70 4-157 4 136 4-46 4-62 4 135 4-156 4 113 4-18 4-81 4 147 4-140 4 86 4 1 4-103 4 147"/>
</g>
<g id="curves-bottom" transform="scale(0.1)">
<path fill="none" stroke="#9400D3" stroke-width="12" stroke-linejoin="round" d="M1890 8500l3-29 3 82 3-81 3 31 3 56 3-44 3-52 3-3 3 12 3-1 3 60 3-15 3 40 3-62 3-23 3 79 3-31 3-55 3 75 3-26 3-21 3 60 3-91 3 70 3-10 3-60 3 68 3-37 3-5 3 53 3-64 3 23 3 27 3-77 3 94 3-25 3-42 3 26 3 27 3-46 3-22 3 72 3 7 3 19 3-33 3 33 3-3 3-32 3-73 3 27 3 17 3 55 3-62 3 15 3 56 3-77 3 20 3 31 3-88 3 58 3 44 3-90 3 52 3 41 3-94 3 51 3 33 3-84 3 67 3 10 3-87 3 92 3-13 3-64 3 80 3-29 3-44 3 91 3-41 3-60 3 94 3-90 3 4 3 83 3-50 3-30 3 77 3 7 3-6 3-31 3 3 3-16 3-9 3-47 3 52 3 28 3-63 3 39 3 44 3-57 3 26 3 2 3-58 3 77 3 11 3-95 3 106 3-39 3-62 3 89 3-40 3-41 3 66 3-44 3-37 3 100 3-70 3 0 3 69 3-51 3-50 3 24 3 32 3 42 3-19 3 6 3 17 3-16 3-16 3-60 3 25 3 65 3-50 3-36 3 90 3-66 3-29 3 95 3-48 3-42 3 80 3-63 3-8 3 69 3-51 3-22 3 91 3-62 3-32 3 92 3-42 3-43 3 56 3 13 3 18 3-3 3 3 3 0 3-55 3-49 3 12 3 74 3-34 3-61 3 79 3-13 3-65 3 60 3 4 3-60 3 60 3 41 3-79 3 28 3 54 3-84 3-19 3 87 3 8 3-64 3-28 3 13 3 3 3 8 3-10 3 25 3 25 3 24 3-22 3-37 3-30 3-17 3 101 3 11 3 10 3 0 3-1 3-18 3 19 3-58 3-11 3-13 3 39 3 43 3-95 3 18 3 65 3-40 3-59 3 81 3 4 3-106 3 97 3-5 3-68 3 18 3 75 3-66 3-11 3 87 3-50 3-50 3 81 3-22 3-67 3 72 3 10 3-57 3 22 3 54 3-75 3 3 3 84 3-47 3-60 3 19 3 54 3 33 3 0 3-7 3 0 3-4 3-17 3-24 3-26 3-19 3 17 3 81 3-51 3-54 3 84 3 9 3-65 3-27 3 6 3 32 3-2 3 47 3 8 3 13 3 0 3 0 3-71 3-26 3 47 3 50 3-63 3-19 3 78 3-47 3-63 3 52 3 39 3-63 3-1 3 86 3-61 3-30 3 85 3-25 3-64 3 62 3 21 3-69 3 4 3 78 3-53 3-44 3 58 3 27 3-23 3-36 3 7 3-25 3 15 3-36 3 52 3 24 3 10 3-78 3 47 3 55 3-94 3 30 3 58 3-49 3-61 3 99 3-19 3-67 3 60 3 31 3-99 3 45 3 56 3-76 3 9 3 62 3-72 3-1 3 86 3-56 3-33 3 76 3-49 3 1 3-31 3-39 3 48 3-15 3 13 3 32 3 45 3-105 3 38 3 77 3-98 3 16 3 81 3-120 3 71 3 40 3-52 3-40 3 37 3 4 3 42 3 6 3-22 3-14 3-48 3 20 3 55 3-75 3 48 3 33 3-112 3 103 3-34 3-54 3 83 3-2 3-73 3 20 3-3 3 50 3 30 3-3 3-66 3-1 3 60 3-59 3-6 3 45 3-76 3 94 3-45 3 16 3 16 3-89 3 107 3-72 3 33 3 20 3-72 3 92 3-92 3 76 3-7 3-78 3 115 3-74 3-45 3 97 3 16 3-56 3-44 3-7 3 8 3 68 3 28 3-7 3-64 3 0 3 52 3-80 3 75 3-25 3-23 3 63 3-88 3 96 3-46 3-37 3 82 3-22 3-53 3-13 3 33 3-26 3 64 3 23 3-62 3-9 3 70 3-60 3 7 3 19 3-70 3 92 3-74 3 92 3-73 3 9 3 52 3-94 3 96 3-58 3 30 3 13 3-59 3 84 3-108 3 83 3-24 3 4 3 41 3-112 3 109 3-47 3-23 3 50 3-61 3 22 3 46 3-42 3-17 3-31 3 7 3 15 3 36 3 45 3-33 3-73 3 63 3 40 3-82 3 80 3-45 3-31 3 80 3-89 3 74 3-33 3-18 3 65 3-82 3 51 3 12 3-71 3 95 3-93 3 21 3 54 3-95 3 117 3-80 3 30 3 43 3-98 3 81 3-34 3-48 3 77 3 20 3 9 3-26 3-34 3-27 3 21 3 64 3-90 3 31 3 55 3-95 3 99 3-45 3-19 3 33 3-57 3 62 3-12 3-68 3 108 3-128 3 72 3 23 3-70 3 69 3-40 3 12 3 53 3-133 3 115 3-28 3-24 3 79 3-79 3 23 3 32 3-74 3 8 3 81 3-4 3-16 3-34 3-27 3-36 3 62 3 55 3-47 3-54 3 96 3-24 3-41 3 70 3-112 3 78 3 10 3-59 3 67 3-39 3-40 3 87 3-6 3-75 3-11 3 5 3 18 3 42 3 37 3 4 3-18 3 3 3-77 3 13 3 82 3-66 3-18 3 84 3-98 3 60 3 32 3-133 3 98 3 41 3-58 3-44 3-6 3 13 3 20 3-9 3 52 3 18 3 14 3-76 3-4 3 71 3-42 3-56 3 86 3-80 3 1 3 100 3-57 3-13 3 29 3 41 3-39 3-33 3-20 3-35 3 33 3 7 3 74 3-19 3-72 3 60 3 13 3-74 3 90 3-51 3-24 3 71 3-81 3 39 3 40 3-94 3 115 3-89 3 23 3 46 3-73 3 24 3 17 3-42 3 61 3-29 3-30 3 85 3-113 3 88 3 26 3-96 3 93 3-37 3-52 3 93 3-55 3-49 3 33 3 37 3 23 3 11 3-16 3-35 3-7 3-44 3 17 3 45 3-4 3-77 3 70 3 13 3-55 3 66 3 2 3-60 3 72 3-43 3-22 3 83 3-105 3 38 3 67 3-122 3 112 3-38 3-36 3 79 3-64 3-2 3 55 3-84 3 41 3 29 3-71 3 53 3 48 3-14 3-49 3-2 3-49 3 46 3 52 3-73 3 48 3 15 3-64 3 67 3-57 3 38 3 20 3-72 3 54 3-31 3-25 3 94 3-17 3-59 3-45 3 18 3 60 3 38 3-67 3 14 3 48 3-87 3 99 3-100 3 51 3 30 3-96 3 115 3-105 3 30 3 6 3-14 3 83 3-89 3 42 3 47 3-52 3-60 3 4 3 36 3 3 3 55 3 3 3 1 3-84 3-3 3 76 3-48 3-5 3 70 3-94 3 56 3 7 3-69 3 96 3-79 3 9 3 65 3-98 3 106 3-37 3-45 3 67 3-65 3 56 3 6 3-85 3 78 3-17 3-28 3 75 3-58 3-32 3 5 3 54 3 11 3 10 3 10 3-10 3-46 3-47 3-12 3 115 3-65 3-33 3 72 3-20 3-78 3 122 3-36 3-67 3 78 3-33 3-42 3 93 3-31 3-94 3 111 3-16 3-58 3 73 3-29 3-66 3 119 3-67 3-8 3 70 3-88 3 6 3 82 3-94 3-29 3 53 3 32 3 30 3-5 3 18 3-52 3-52 3 20 3 75 3-93 3 42 3 39 3-78 3 93 3-57 3-4 3 44 3-68 3 38 3 10 3-46 3 87 3-110 3 66 3 1 3-51 3 58 3-47 3 44 3-2 3-63 3 90 3-70 3 69 3-50 3-12 3 57 3-84 3 76 3-33 3-9 3 33 3-42 3-2 3 10 3 42 3 25 3-8 3-28 3-63 3 88 3-11 3-75 3 103 3-117 3 85 3-44 3-37 3 110 3-105 3 108 3-62 3 4 3 49 3-88 3 66 3-41 3-6 3 78 3-103 3 103 3-70 3-34 3 104 3-54 3 37 3-37 3-59 3 111 3-92 3 40 3 47 3-86 3 40 3 13 3 40 3-15 3-24 3-48 3-10 3 97 3-90 3 3 3 87 3-87 3 19 3 36 3-91 3 88 3-72 3-9 3 89 3-49 3 6 3 70 3-109 3 39 3 70 3-67 3-37 3-27 3 23 3 27 3 34 3 13 3-4 3-63 3 73 3-15 3-63 3 88 3-50 3-19 3 58 3-77 3 36 3 46 3-99 3 64 3 31 3-79 3 58 3 49 3-15 3-63 3-7 3-30 3-14 3 30 3-3 3 77 3 20 3-72 3-16 3 47 3 38 3-47 3-5 3-20 3-13 3-4 3 6 3 48 3 6 3-78 3 84 3-8 3-82 3 114 3-44 3-31 3 82 3-92 3 36 3 41 3-75 3 64 3-11 3-60 3 83 3-58 3-16 3 79 3-72 3 4 3 64 3-106 3 61 3 58 3-112 3 67 3 19 3-78 3 69 3 5 3-87 3 96 3-7 3-68 3 2 3 46 3-4 3-8 3 44 3 3 3-34 3-71 3 70 3 16 3-84 3 78 3 10 3-68 3 43 3 51 3-93 3 55 3 21 3-58 3 21 3 26 3-43 3-6 3 62 3-59 3-11 3 59 3-26 3-58 3 79 3 21 3-87 3 21 3 77 3-48 3-54 3-16 3 10 3 19 3-13 3 6 3 42 3 28 3 27 3-57 3-54 3 37 3 74 3-55 3-59 3 33 3-8 3 1 3 7 3-16 3 16 3 16 3 45 3-7 3-89 3 33 3 63 3-61 3-12 3 83 3-32 3-52 3 90 3-73 3-9 3 67 3-75 3 37 3 37 3-59 3 57 3-3 3-92 3 93 3-54 3-24 3 90 3-74 3 10 3 71 3-94 3 37 3 50 3-97 3 65 3 24 3 20 3 0 3-39 3-14 3-43 3 17 3 61 3-91 3 58 3 9 3-44 3 85 3-65 3 14 3 25 3-79 3 83 3-66 3 29 3 24 3-54 3 71 3-84 3 81 3-29 3-1 3 26 3-64 3 79 3-86 3 54 3-1 3-24 3 39 3-55 3 84 3-121 3 100 3-68 3 39 3-1 3-27 3 69 3-52 3-40 3 3 3 0 3 71 3-12 3-79 3 96 3-95 3 99 3-76 3 66 3-56 3 24 3 19 3-49 3 37 3-47 3 82 3-93 3 111 3-121 3 90 3-59 3 79 3-63 3-27 3 94 3-26 3-44 3-38 3 18 3 40 3 54 3-64 3-47 3 108 3-77 3 35 3 11 3-68 3 93 3-96 3 105 3-88 3 30 3-41 3-11 3 40 3-111 3 97 3-117 3 40 3-18 3-55 3 73 3-114 3 63 3-55 3 27 3-82 3 73 3-30 3-104 3 66 3 49 3-118 3 17 3 88 3-38 3-71 3 85 3 38 3-98 3 5 3 90 3-46 3-92 3 58 3 84 3-63 3-52 3 53 3 64 3-63 3-84 3 65 3 72 3-36 3-66 3 37 3 56 3-4 3-99 3-6 3 88 3 59 3-68 3-73 3-3 3 90 3 37 3-40 3-71 3-18 3 67 3 62 3-23 3-81 3-36 3 41 3 87 3 21 3-74 3-91 3 21 3 78 3 78 3-21 3-65 3-58 3 3 3 6 3 44 3 68 3 15 3-73 3-72 3 7 3 28 3 7 3 42 3 60 3-16 3-81 3-20 3 2 3-34 3 12 3 54 3 45 3-15 3 41 3 4 3-69 3-18 3 3 3-49 3-6 3 22 3 4 3 29 3 43 3-8 3 23 3 17 3-11 3 6 3 6 3-38 3 6 3-19 3-26 3 15 3-46 3 0 3 7 3-41 3 26 3-9 3-8 3 12 3-27 3 35 3-23 3 10 3 1 3-25 3 32 3-34 3 43 3-18 3 2 3 33 3-35 3 43 3-21 3 31 3-15 3 30 3 11 3-5 3 41 3-27 3 65 3-49 3 35 3-53 3 4 3-43 3-3 3-30 3-19 3 15 3 5 3 33 3 17 3 52 3 6 3 39 3-63 3 2 3-100 3 18 3-67 3 67 3 26 3 84 3-6 3 17 3-67 3-24 3-84 3 45 3 31 3 57 3 41 3-23 3-53 3-83 3 28 3 8 3 107 3-12 3 3 3-104 3-4 3-3 3 111 3 29 3-39 3-55 3-70 3 79 3 30 3 51 3-94 3-37 3 4 3 71 3 62 3-96 3-29 3 15 3 62 3 31 3-105 3 1 3 15 3 86 3-29 3-102 3 41 3 57 3 9 3-78 3-25 3 113 3-3 3-90 3 13 3 65 3 10 3-90 3-5 3 125 3-45 3-85 3 64 3 38 3-59 3-42 3 75 3 25 3-92 3 43 3 70 3-100 3-18 3 123 3-81 3-57 3 120 3-35 3-90 3 116 3-9 3-109 3 109 3-2 3-111 3 112 3 20 3-122 3 101 3 0 3-102 3 108 3-19 3-55 3 85 3-79 3 21 3 66 3-130 3 130 3-50 3-82 3 148 3-85 3 10 3 27 3-89 3 140 3-121 3 39 3 55 3-91 3 85 3-82 3 70 3 4 3-93 3 99 3-66 3 85 3-108 3 28 3 41 3-27 3 70 3-145 3 132 3-81 3 91 3-112 3 49 3 6 3 12 3 29 3-91 3 72 3-76 3 132 3-135 3 112 3-146 3 166 3-121 3 130 3-163 3 119 3-126 3 171 3-139 3 127 3-153 3 125 3-124 3 153 3-127 3 120 3-104 3 44 3-35 3 9 3 37 3-44 3 80 3-120 3 126 3-142 3 112 3-72 3 57 3 18 3-52 3 77 3-123 3 104 3-89 3 43 3 13 3-71 3 117 3-95 3 96 3-41 3-30 3 72 3-112 3 69 3-20 3-55 3 105 3-100 3 49 3 31 3-108 3 121 3-41 3-47 3 110 3-94 3 6 3 91 3-129 3 77 3 50 3-123 3 72 3 21 3-93 3 84 3 19 3-119 3 72 3 50 3-117 3 49 3 56 3-95 3 14 3 97 3-71 3-33 3 122 3-38 3-78 3 83 3 52 3-112 3-16 3 93 3-49 3-88 3 79 3 73 3-63 3-39 3 70 3 31 3-93 3-29 3 56 3 33 3-44 3-15 3 64 3 19 3-83 3-45 3 50 3 100 3-32 3-71 3-23 3 60 3 35 3-32 3-47 3 18 3 39 3 15 3-36 3-37 3 16 3 41 3 19 3-27 3-40 3-15 3 27 3 50 3 45 3-46 3-83 3-41 3 86 3 80 3 8 3-79 3-56 3-6 3 33 3 8 3 46 3 39 3-21 3-62 3-59 3 18 3 45 3 22 3 13 3 36 3 0 3-61 3-47 3 18 3 6 3-43 3 49 3 53 3 7 3-19 3 15 3 3 3-53 3-15 3 9 3-31 3-16 3 24 3 28 3-3 3 25 3 27 3 16 3-28 3 52 3-13 3-21 3 8 3-9 3-24 3 1 3 6 3-45 3 15 3 21 3-43 3 7 3 6 3-22 3-11 3 47 3-26 3 0 3 25 3-44 3 32 3 16 3-33 3 29 3 21 3-23 3 22 3 24 3-13 3 39 3-16 3-9 3 24 3-31 3-2 3 0 3-47 3 12 3-35 3-20 3-10 3-19 3 46 3 22 3 10 3 57 3 3 3 26 3-11 3-51 3-25 3-52 3-1 3-3 3 18 3 63 3 21 3 46 3-47 3-24 3-45 3-31 3 18 3 31 3 52 3 0 3 22 3-67 3-21 3-48 3 74 3 20 3 59 3-53 3-25 3-72 3 55 3 8 3 82 3-38 3-41 3-63 3 59 3 17 3 64 3-71 3-26 3-39 3 91 3 30 3-26 3-56 3-33 3 87 3 5 3-11 3-80 3 37 3 61 3-2 3-39 3-73 3 103 3 22 3-49 3-52 3 26 3 107 3-90 3-71 3 94 3 29 3-28 3-66 3 46 3 77 3-85 3-61 3 135 3-23 3-108 3 75 3 46 3-75 3-20 3 94 3-28 3-81 3 52 3 55 3-70 3 2 3 73 3-77 3 6 3 62 3-68 3-1 3 82 3-83 3-11 3 111 3-111 3-21 3 152 3-107 3-25 3 81 3-67 3 36 3 9 3-100 3 123 3-12 3-99 3 99 3-67 3 41 3 23 3-99 3 119 3-42 3-21 3 56 3-114 3 120 3-49 3-8 3 51 3-106 3 118 3-71 3 27 3 11 3-84 3 115 3-117 3 148 3-129 3 56 3-2 3-40 3 77 3-101 3 133 3-147 3 143 3-132 3 113 3-90 3 62 3-28 3 4 3-20 3 0 3 25 3-23 3 60 3-71 3 65 3-87 3 75 3-77 3 65 3-50 3 64 3-34 3 41 3-24 3-10 3 11 3-52 3 58 3-99 3 117 3-125 3 142 3-117 3 130 3-94 3 59 3-14 3-21 3 62 3-113 3 107 3-117 3 101 3-62 3 9 3 26 3-70 3 96 3-94 3 71 3-17 3-59 3 112 3-126 3 98 3-23 3-57 3 113 3-116 3 52 3 34 3-97 3 119 3-70 3-26 3 104 3-114 3 46 3 50 3-119 3 111 3-12 3-59 3 95 3-36 3-64 3 117 3-49 3-71 3 107 3-34 3-85 3 95 3-17 3-95 3 92 3 25 3-93 3 54 3 73 3-95 3-6 3 69 3-27 3-96 3 85 3 40 3-67 3 19 3 81 3-30 3-101 3 22 3 74 3-47 3-48 3 79 3 63 3-102 3-70 3 83 3 71 3-42 3-64 3 47 3 44 3-40 3-79 3 42 3 82 3 3 3-107 3-31 3 81 3 92 3-35 3-117 3-35 3 102 3 88 3-47 3-110 3-13 3 64 3 63 3-2 3-62 3-35 3 6 3 26 3 44 3 40 3-21 3-110 3-26 3 52 3 85 3-6 3-19 3-18 3-38 3-61 3 44 3 89 3 13 3-26 3 20 3-37 3-92 3 11 3 60 3-5 3 33 3 39 3-3 3-46 3 0 3-12 3-82 3 27 3 28 3-26 3 47 3 59 3-21 3 26 3 29 3-41 3-11 3 10 3-67 3-3 3 8 3-35 3 3 3 10 3-14 3 23 3-5 3-9 3 25 3 13 3-4 3 31 3-20 3 3 3 29 3-24 3 29 3-6 3-19 3 28 3-15 3-3 3 15 3-11 3 4 3-24 3-7 3-9 3 0 3-9 3-12 3-7 3-2 3-27 3 25 3-22 3 9 3 27 3-13 3 69 3-21 3 46 3-3 3 15 3 16 3-48 3 12 3-52 3-12 3-38 3-12 3 22 3 8 3 87 3-1 3 60 3-57 3-4 3-79 3-23 3-14 3 12 3 82 3 12 3 65 3-69 3-1 3-108 3 11 3-1 3 94 3 16 3 42 3-87 3-16 3-60 3 67 3 48 3 44 3-52 3-57 3-53 3 64 3 39 3 75 3-89 3-39 3-51 3 96 3 40 3 26 3-129 3-7 3 37 3 110 3-49 3-85 3-8 3 57 3 82 3-80 3-62 3 15 3 99 3-13 3-95 3 8 3 68 3 35 3-97 3-22 3 101 3 3 3-72 3-36 3 99 3 21 3-107 3 20 3 86 3-51 3-56 3 44 3 46 3-52 3-52 3 103 3-4 3-111 3 100 3 37 3-136 3 74 3 87 3-150 3 47 3 118 3-141 3-5 3 132 3-123 3-19 3 137 3-111 3-34 3 132 3-80 3-31 3 104 3-73 3 14 3 19 3-61 3 77 3-19 3-85 3 122 3-68 3-15 3 70 3-71 3 68 3-51 3-25 3 104 3-96 3 51 3-29 3-31 3 111 3-117 3 60 3-41 3 18 3 71 3-116 3 101 3-115 3 113 3-37 3-7 3 12 3-73 3 109 3-94 3 114 3-143 3 100 3-83 3 78 3-20 3 11 3 1 3-43 3 47 3-73 3 107 3-97 3 118 3-125 3 98 3-115 3 116 3-106 3 117 3-101 3 115 3-115 3 78 3-82 3 59 3-24 3 44 3-31 3-3 3 40 3-76 3 81 3-107 3 103 3-95 3 100 3-79 3 51 3-12 3-24 3 70 3-94 3 104 3-93 3 69 3-39 3-42 3 97 3-126 3 114 3-73 3 12 3 59 3-123 3 136 3-97 3 20 3 82 3-140 3 122 3-49 3-29 3 90 3-98 3 58 3 39 3-118 3 106 3-18 3-72 3 105 3-65 3-45 3 100 3-64 3-22 3 91 3-88 3-16 3 90 3-85 3-3 3 98 3-63 3-28 3 100 3-21 3-79 3 85 3 7 3-82 3 35 3 79 3-93 3-28 3 74 3-8 3-84 3 41 3 88 3-65 3-55 3 78 3 45 3-89 3-46 3 91 3 14 3-78 3-10 3 89 3 39 3-95 3-58 3 75 3 61 3-60 3-63 3 45 3 87 3-37 3-77 3-27 3 86 3 59 3-28 3-98 3-13 3 70 3 65 3-32 3-67 3-50 3 55 3 68 3 19 3-52 3-84 3-1 3 71 3 60 3 3 3-63 3-32 3-20 3 20 3 37 3 62 3 8 3-70 3-67 3-2 3 25 3 38 3 33 3 47 3-18 3-75 3-36 3 2 3-3 3 21 3 52 3 45 3 0 3-23 3 7 3-57 3-29 3-2 3-19 3-10 3 45 3 16 3 15 3 45 3 4 3-19 3 33 3-22 3-38 3 16 3-44 3-9 3 10 3-29 3-14 3 12 3-21 3 16 3-1 3-1 3 21 3-24 3 32 3 9 3-16 3 18 3-30 3 30 3-18 3 3 3 16 3-43 3 38 3-42 3 1"/>
<path fill="none" stroke="#009E73" stroke-width="12" stroke-linejoin="round" d="M1890 8536l3-35 3-26 3 42 3 4 3-57 3 66 3-9 3-62 3 56 3-2 3-41 3 47 3 4 3-44 3 55 3-45 3-16 3 68 3-31 3-33 3 75 3-42 3-36 3 63 3 16 3-41 3-22 3 5 3-47 3 37 3 19 3 15 3-23 3 2 3 42 3-57 3 28 3 18 3-58 3 58 3-21 3-39 3 59 3-42 3-12 3 63 3-5 3-27 3-17 3-8 3-19 3 8 3 35 3 46 3-72 3 30 3 14 3-47 3 54 3-45 3-1 3 52 3-58 3 47 3-12 3-27 3 52 3-62 3 38 3-7 3-26 3 79 3-96 3 64 3-36 3-18 3 71 3-62 3 61 3-64 3 3 3 36 3-53 3 84 3-61 3 20 3 13 3-77 3 53 3 17 3-61 3 14 3 9 3 42 3 10 3-7 3-45 3 21 3 35 3-52 3 35 3-39 3 21 3 18 3-33 3 50 3-66 3 54 3-35 3 32 3-24 3 9 3 30 3-69 3 68 3-51 3 37 3-53 3 53 3-1 3-64 3 66 3 10 3 6 3-44 3-32 3 22 3 20 3 43 3-34 3-41 3 65 3-54 3 50 3-22 3-25 3 63 3-86 3 76 3-57 3 5 3 58 3-6 3-43 3-25 3 5 3 24 3 34 3-18 3-39 3 72 3-76 3 64 3-47 3 13 3 19 3-47 3 68 3-79 3 70 3-39 3 11 3 18 3-52 3 76 3-60 3 45 3-31 3-11 3 35 3-54 3 85 3-69 3 39 3-17 3-22 3 58 3-74 3 52 3-31 3 7 3 17 3-66 3 91 3-65 3 37 3 9 3-45 3 78 3-85 3 26 3 60 3-27 3-58 3 1 3 7 3 21 3 28 3-13 3-34 3 44 3-18 3-29 3 73 3-77 3 32 3-20 3-4 3 52 3-67 3 72 3-21 3-32 3 62 3-62 3 39 3-21 3-37 3 80 3-60 3 26 3-7 3-34 3 75 3-75 3 58 3-25 3-5 3 55 3-79 3 26 3 12 3-41 3 67 3-55 3 6 3 48 3-67 3 19 3 63 3-21 3-49 3-9 3-12 3 19 3-3 3 54 3 12 3-57 3-14 3 72 3-63 3 33 3 5 3-72 3 95 3-57 3 13 3 27 3-50 3 85 3-89 3 53 3 1 3-48 3 69 3-81 3 75 3-45 3-9 3 58 3-85 3 72 3-54 3 38 3 12 3-63 3 42 3 38 3-22 3-27 3-34 3 32 3 36 3-49 3 41 3-35 3 10 3 28 3-32 3 46 3-63 3 42 3-5 3-45 3 30 3 37 3 24 3-36 3-44 3 14 3 48 3-90 3 96 3-69 3 57 3-59 3 58 3-10 3-42 3 75 3-64 3 21 3 17 3-73 3 3 3 33 3 41 3 12 3-1 3-70 3 21 3 13 3-20 3 57 3-77 3 69 3-37 3 3 3 0 3-29 3 46 3-59 3 70 3-32 3-7 3 47 3-78 3 65 3-48 3 32 3-2 3-34 3 80 3-87 3 44 3 5 3-55 3 31 3 34 3 17 3-18 3-5 3-29 3-21 3 67 3 2 3-75 3 59 3-19 3-6 3 19 3-72 3 82 3-25 3 1 3 25 3-74 3 80 3-78 3 54 3 1 3-28 3 51 3-73 3 72 3-53 3 22 3 14 3-41 3 74 3-105 3 91 3-62 3 34 3 15 3-62 3 22 3 36 3 17 3 15 3-52 3-19 3 54 3-70 3 66 3-51 3 12 3 28 3-49 3 78 3-73 3 56 3-61 3 62 3-59 3 48 3-35 3 17 3-2 3-33 3 58 3-50 3 52 3-57 3 63 3-58 3 58 3-58 3 68 3-52 3 21 3-23 3 33 3-28 3-24 3 61 3-59 3 12 3 32 3 30 3-12 3-57 3-9 3 53 3-4 3-37 3 52 3-70 3 63 3-2 3-49 3 63 3-52 3 10 3 8 3 14 3 19 3 8 3-16 3-27 3-31 3-4 3 53 3-6 3-38 3 52 3-19 3-29 3 45 3-45 3-4 3 72 3-67 3 15 3 37 3-65 3 29 3 33 3-67 3 33 3 38 3-60 3 27 3 48 3-70 3-2 3 61 3-41 3-26 3 54 3-9 3-45 3 31 3 25 3-46 3 13 3 42 3-44 3-21 3 67 3-29 3-44 3 27 3 49 3 16 3-32 3-21 3-17 3-19 3 25 3-33 3 18 3 26 3 37 3-18 3-79 3 36 3 50 3-57 3 29 3 49 3-67 3 27 3 32 3-71 3 29 3 29 3-66 3 60 3 10 3-73 3 72 3-31 3-19 3 41 3-29 3-17 3 43 3-30 3-32 3 2 3 6 3 14 3 12 3 27 3 13 3-47 3 33 3-5 3-52 3 72 3-36 3-25 3 75 3-44 3-44 3 33 3-18 3 12 3 54 3-34 3-39 3 52 3-11 3-28 3 59 3-57 3 13 3 30 3-68 3 67 3-29 3-1 3 49 3-65 3 26 3 20 3-38 3-6 3 50 3 7 3-18 3 4 3-16 3-48 3 14 3 53 3 0 3-49 3 29 3 34 3-91 3 58 3 31 3-40 3-40 3 24 3 6 3 39 3-3 3 23 3-25 3-34 3-25 3 54 3 13 3-83 3 93 3-30 3-35 3 63 3-82 3 44 3 13 3-53 3 85 3-60 3 22 3 23 3-77 3 82 3-27 3-45 3 91 3-45 3-51 3 32 3 35 3 22 3-25 3 15 3-38 3 0 3-36 3 18 3 75 3-77 3-19 3 73 3-40 3-7 3 62 3-76 3 43 3 25 3-68 3 65 3-31 3-38 3 72 3-42 3-33 3 78 3-55 3-30 3 85 3-68 3 17 3 44 3-74 3 33 3 30 3-76 3 50 3 37 3-57 3 0 3 43 3-4 3 4 3-18 3-12 3-30 3 7 3 11 3 50 3-6 3-50 3 19 3 28 3-44 3 26 3 24 3-75 3 58 3-3 3-40 3 81 3-40 3-43 3 58 3-23 3-41 3 51 3 33 3-30 3-12 3-17 3 11 3-12 3-20 3-1 3 52 3 2 3-59 3 77 3-5 3-68 3 73 3-15 3-56 3 69 3-37 3-9 3 34 3-53 3 27 3 50 3-84 3 45 3 27 3-69 3 32 3 43 3-20 3-29 3-17 3 0 3 2 3-9 3 26 3 65 3-39 3-59 3 51 3 15 3-50 3 43 3-11 3-47 3 76 3-51 3 8 3 55 3-78 3 15 3 52 3-88 3 68 3 19 3-74 3 65 3-25 3-48 3 86 3-46 3-7 3 43 3-44 3-10 3 63 3-56 3 19 3 25 3-41 3-8 3 69 3-63 3-5 3 54 3-51 3-7 3 40 3 27 3-29 3-15 3-5 3-32 3-8 3 15 3 18 3 50 3-27 3-38 3 9 3 44 3-42 3-13 3 66 3-23 3-41 3 64 3-22 3-58 3 74 3-7 3-60 3 66 3-10 3-48 3 23 3 49 3-78 3 23 3 53 3-53 3-28 3 66 3 12 3-18 3-26 3-7 3-19 3-4 3-4 3 9 3 5 3 5 3 25 3 32 3-20 3-44 3 11 3 62 3-39 3-37 3 27 3 23 3 1 3-1 3 9 3 0 3-14 3-22 3-31 3 18 3 55 3-7 3-30 3-24 3 58 3-49 3-19 3 63 3-9 3-54 3 64 3 7 3-67 3 23 3 53 3-33 3-53 3 75 3-16 3-45 3 58 3-13 3-36 3-20 3 19 3 13 3 23 3 6 3 8 3 19 3-47 3-47 3 57 3 12 3-58 3 78 3-41 3-28 3 58 3-39 3-4 3 43 3-65 3 40 3 15 3-34 3 23 3-7 3-24 3 42 3-50 3 36 3 1 3-38 3 72 3-60 3 27 3 5 3-52 3 74 3-52 3 30 3 5 3-35 3 61 3-68 3 30 3 17 3-60 3-5 3 52 3 27 3 6 3-38 3-26 3 57 3-61 3 28 3 3 3-40 3 63 3-65 3 68 3-8 3-53 3 59 3-69 3 51 3 22 3-74 3 63 3-34 3-7 3 56 3-77 3 36 3 29 3-79 3 73 3-4 3-42 3 31 3 18 3 19 3 5 3-41 3-11 3 4 3-20 3-31 3 36 3 51 3-24 3-47 3 48 3 18 3-67 3 17 3 66 3-50 3-37 3 79 3-1 3-71 3 17 3 55 3-28 3-32 3-10 3 17 3 30 3 0 3 11 3 5 3 0 3 13 3-13 3-15 3-28 3-25 3 31 3 37 3-4 3-55 3 4 3 51 3-5 3-60 3 24 3 53 3-28 3-55 3 44 3 38 3-55 3-1 3 33 3 3 3-47 3 0 3 37 3 18 3-45 3-9 3-14 3 36 3-22 3 4 3 10 3 3 3 25 3 30 3-38 3-43 3 10 3 71 3-30 3-49 3 41 3 22 3-30 3-37 3 6 3 18 3 11 3 4 3-1 3 28 3-12 3 4 3 10 3-6 3-51 3-17 3 46 3 12 3-45 3-22 3 9 3 72 3-23 3-1 3 3 3 9 3-2 3-12 3 10 3-65 3-10 3 30 3 53 3-68 3-72 3 109 3 13 3-82 3 6 3 35 3 18 3-11 3 46 3-5 3-14 3-101 3 5 3 91 3-53 3-39 3 88 3-51 3-67 3 68 3 8 3-91 3 86 3-19 3-91 3 130 3-37 3-92 3 99 3-38 3-101 3 128 3-60 3-106 3 155 3-73 3-33 3 64 3-82 3-21 3 59 3-107 3-6 3 28 3-95 3 9 3 14 3-102 3 23 3-4 3-90 3 3 3-12 3-74 3-71 3-62 3-65 3-48 3-35 3-9 3-3 3-61 3-103 3 24 3-60 3-100 3 13 3-30 3-96 3 14 3-56 3-73 3 26 3-70 3-102 3 61 3-68 3-86 3 9 3-60 3-69 3-75 3 2 3-41 3-40 3-15 3-15 3-63 3-87 3 34 3 10 3-115 3 32 3 4 3-121 3 20 3 26 3-75 3-39 3 29 3-75 3-39 3 40 3-90 3-13 3 11 3-64 3-39 3 22 3-44 3-70 3 38 3-32 3-83 3 34 3 1 3-41 3-40 3-41 3-33 3-23 3-18 3 56 3-74 3-63 3 29 3-14 3-78 3 77 3-104 3 9 3 21 3-89 3-25 3 47 3 4 3-34 3-40 3-48 3-43 3-48 3 69 3-45 3-84 3 64 3-76 3-12 3 33 3-101 3 21 3 20 3-17 3-53 3-61 3-40 3 34 3 24 3-4 3-97 3 21 3 21 3-94 3 36 3-22 3-65 3 51 3-109 3 66 3-77 3 8 3 17 3-105 3 85 3-56 3-70 3 62 3 26 3-47 3-49 3 3 3 30 3-65 3 84 3-3 3-110 3 10 3 99 3-22 3-65 3 23 3 79 3-16 3-112 3 17 3 79 3-12 3-65 3 14 3 91 3 6 3-93 3-62 3 61 3 90 3-10 3-79 3-13 3 53 3 30 3-49 3-57 3 33 3 71 3 43 3-91 3-55 3-3 3 83 3 55 3-28 3-71 3-40 3 22 3 58 3 33 3-14 3-36 3-28 3-5 3-15 3 43 3 61 3 29 3-55 3-82 3-34 3 67 3 42 3 5 3 1 3 27 3-15 3-54 3-48 3 21 3 22 3 15 3 9 3 47 3 36 3-41 3-39 3 14 3-28 3-72 3 6 3 44 3-15 3 1 3 59 3 43 3-18 3 22 3 30 3-39 3-6 3 12 3-46 3-19 3 13 3-20 3-36 3 27 3-35 3-23 3 29 3-1 3-31 3 34 3-21 3-20 3 44 3-28 3 3 3 36 3-50 3 19 3 21 3-47 3 31 3 5 3-7 3 32 3-22 3 37 3 2 3 16 3 35 3-35 3 62 3-18 3 15 3 19 3-35 3 4 3-46 3-21 3-33 3-13 3 13 3-23 3 40 3 3 3 60 3 5 3 31 3-13 3-9 3-42 3-48 3-25 3-2 3 37 3 44 3 47 3 2 3-3 3-45 3-43 3-35 3 29 3 41 3 60 3-4 3-16 3-61 3-41 3 18 3 42 3 55 3-8 3-23 3-74 3-6 3 32 3 79 3 2 3-44 3-50 3-26 3 77 3 29 3 8 3-97 3-9 3 48 3 65 3-2 3-102 3-21 3 70 3 60 3-15 3-108 3-4 3 109 3 12 3-57 3-73 3 88 3 58 3-87 3-27 3 35 3 48 3-24 3-87 3 64 3 93 3-97 3-43 3 82 3 12 3-66 3-22 3 82 3 12 3-118 3 57 3 89 3-96 3-19 3 88 3-40 3-51 3 67 3 11 3-89 3 60 3 31 3-86 3 47 3 51 3-111 3 53 3 68 3-109 3 43 3 66 3-139 3 77 3 72 3-142 3 90 3 38 3-130 3 114 3-32 3-57 3 118 3-120 3 64 3 52 3-152 3 147 3-51 3-69 3 126 3-123 3 118 3-73 3-40 3 138 3-140 3 86 3-56 3 33 3 56 3-151 3 148 3-109 3 92 3-73 3-4 3 95 3-108 3 98 3-132 3 155 3-109 3 81 3-89 3 46 3 23 3-34 3 34 3-90 3 120 3-102 3 125 3-156 3 112 3-95 3 142 3-139 3 110 3-123 3 138 3-121 3 142 3-157 3 118 3-124 3 125 3-102 3 119 3-104 3 75 3-84 3 41 3 7 3-17 3 76 3-103 3 104 3-124 3 120 3-116 3 84 3-56 3 10 3 74 3-93 3 107 3-123 3 93 3-48 3-19 3 71 3-130 3 135 3-93 3 12 3 64 3-104 3 111 3-63 3-3 3 107 3-139 3 100 3-6 3-85 3 133 3-105 3 21 3 80 3-141 3 88 3 28 3-128 3 126 3-51 3-65 3 118 3-60 3-75 3 135 3-54 3-77 3 128 3-42 3-74 3 105 3 0 3-105 3 98 3 26 3-112 3 28 3 87 3-96 3-30 3 121 3-34 3-90 3 84 3 69 3-109 3-51 3 101 3 22 3-123 3 50 3 104 3-42 3-114 3 31 3 129 3-27 3-101 3 19 3 70 3-15 3-80 3 19 3 72 3 20 3-95 3-42 3 82 3 70 3-53 3-81 3-14 3 96 3 65 3-59 3-98 3 2 3 83 3 55 3-40 3-60 3-48 3 66 3 50 3-7 3-19 3-32 3-31 3 6 3 62 3 52 3-16 3-95 3-17 3 19 3 33 3 23 3 26 3 14 3-66 3-59 3 14 3 31 3 16 3 28 3 53 3-10 3-65 3-39 3 6 3-32 3 5 3 60 3 38 3-4 3 33 3 17 3-61 3-16 3 5 3-75 3-7 3 22 3-13 3 2 3 60 3-2 3 12 3 53 3-14 3-11 3 44 3-21 3-21 3 26 3-32 3-25 3 22 3-40 3-12 3 31 3-44 3 30 3-25 3-25 3 41 3-30 3-1 3 36 3-44 3 27 3 0 3-12 3 48 3-24 3 19 3 20 3-12 3 30 3-12 3 24 3 16 3-19 3 15 3-35 3 27 3-38 3-29 3 2 3-53 3 16 3-33 3 19 3 20 3 9 3 41 3 0 3 53 3-16 3 6 3-61 3-18 3-23 3-23 3 18 3 4 3 76 3-9 3 70 3-57 3-24 3-77 3 27 3-26 3 63 3 35 3 42 3-39 3-35 3-57 3 7 3 19 3 84 3 22 3-44 3-67 3-33 3 26 3 78 3 20 3 3 3-97 3-5 3-10 3 130 3-32 3-14 3-123 3 60 3 28 3 110 3-104 3-46 3-10 3 85 3 52 3-107 3-24 3 8 3 125 3-65 3-49 3-40 3 99 3 48 3-106 3-21 3 64 3 56 3-97 3-33 3 91 3 16 3-54 3-63 3 122 3-13 3-108 3 40 3 70 3-27 3-68 3 63 3 62 3-118 3 15 3 95 3-85 3-14 3 63 3 3 3-80 3 52 3 41 3-85 3 22 3 78 3-92 3 12 3 87 3-102 3 1 3 104 3-113 3 36 3 76 3-118 3 56 3 23 3-81 3 102 3-68 3-9 3 94 3-124 3 45 3 74 3-121 3 95 3-26 3-44 3 87 3-106 3 93 3-21 3-73 3 123 3-142 3 132 3-64 3-45 3 105 3-109 3 132 3-130 3 74 3-20 3-27 3 77 3-121 3 126 3-135 3 135 3-78 3 36 3-26 3-18 3 62 3-74 3 109 3-127 3 112 3-139 3 155 3-146 3 152 3-129 3 130 3-143 3 118 3-126 3 130 3-119 3 131 3-124 3 138 3-132 3 128 3-160 3 144 3-153 3 139 3-119 3 96 3-62 3 64 3-37 3 17 3 39 3-82 3 114 3-132 3 145 3-122 3 94 3-49 3-16 3 63 3-124 3 124 3-114 3 93 3-27 3-42 3 93 3-119 3 108 3-72 3-13 3 109 3-134 3 116 3-42 3-54 3 133 3-145 3 78 3 30 3-121 3 130 3-59 3-66 3 126 3-126 3 29 3 82 3-124 3 65 3 62 3-116 3 84 3 47 3-117 3 76 3 37 3-117 3 55 3 33 3-89 3 27 3 73 3-74 3-17 3 111 3-54 3-71 3 90 3 6 3-103 3 30 3 86 3-59 3-37 3 84 3-2 3-92 3 12 3 74 3-8 3-85 3 58 3 80 3-67 3-99 3 62 3 90 3-38 3-70 3 7 3 56 3 11 3-57 3-20 3 85 3 6 3-71 3-32 3 46 3 82 3-15 3-86 3-33 3 62 3 70 3-8 3-108 3-15 3 51 3 53 3 10 3-54 3-33 3-16 3 22 3 39 3 63 3-26 3-85 3-41 3 47 3 77 3 21 3-22 3-42 3-25 3-24 3-20 3 73 3 67 3-18 3-44 3-2 3-32 3-51 3 13 3 78 3 2 3 22 3 24 3-2 3-63 3-29 3-3 3-34 3-8 3 50 3 20 3 13 3 49 3 12 3-15 3 15 3-20 3-40 3-18 3-5 3-37 3-7 3 9 3-31 3 6 3 39 3-28 3 30 3 36 3-37 3 32 3 18 3-20 3 37 3-1 3-31 3 44 3-23 3 2 3 31 3-48 3 29 3 7 3-44 3 47 3-65 3 19 3 12 3-57 3 40 3-51 3 8 3 7 3-42 3 41 3-27 3 27 3 9 3-18 3 64 3-19 3 66 3-26 3 11 3 14 3-27 3 11 3-71 3 8 3-46 3 30 3-14 3 20 3 65 3 2 3 42 3-40 3 2 3-86 3 13 3-49 3 51 3 30 3 56 3 16 3-10 3-62 3-60 3-3 3 24 3 49 3 54 3-5 3-51 3-54 3-29 3 51 3 82 3 14 3-31 3-89 3-11 3 21 3 111 3-15 3-20 3-122 3 41 3 42 3 97 3-60 3-79 3-7 3 36 3 110 3-75 3-53 3-35 3 105 3 21 3-62 3-47 3 17 3 126 3-69 3-83 3 31 3 62 3 29 3-126 3 25 3 84 3-28 3-46 3-18 3 109 3-29 3-102 3 70 3 68 3-83 3-10 3 36 3 32 3-66 3-22 3 116 3-75 3-67 3 130 3-37 3-107 3 124 3 0 3-117 3 95 3 46 3-132 3 67 3 65 3-121 3 52 3 94 3-168 3 77 3 81 3-167 3 93 3 73 3-170 3 117 3 15 3-96 3 100 3-62 3 0 3 69 3-128 3 124 3-17 3-114 3 142 3-72 3 9 3 36 3-93 3 134 3-112 3 15 3 57 3-83 3 135 3-153 3 89 3-16 3-23 3 68 3-134 3 163 3-116 3 102 3-100 3 19 3 45 3-47 3 103 3-155 3 123 3-118 3 155 3-139 3 103 3-105 3 77 3-41 3 64 3-51 3 22 3-47 3 11 3 12 3 5 3 24 3-14 3-7 3-12 3-19 3 32 3-30 3 70 3-64 3 89 3-118 3 109 3-135 3 120 3-128 3 130 3-99 3 83 3-27 3-8 3 65 3-98 3 110 3-144 3 111 3-88 3 31 3 23 3-80 3 107 3-101 3 96 3-40 3-9 3 78 3-104 3 89 3-49 3-11 3 73 3-89 3 78 3-33 3-39 3 101 3-107 3 43 3 61 3-123 3 101 3-30 3-78 3 126 3-84 3-34 3 113 3-104 3-1 3 87 3-106 3 28 3 104 3-125 3 21 3 115 3-99 3-22 3 119 3-69 3-60 3 116 3-39 3-95 3 71 3 34 3-104 3 38 3 79 3-57 3-43 3 89 3 28 3-100 3 1 3 79 3-21 3-101 3 38 3 103 3-49 3-59 3 43 3 62 3-44 3-88 3 32 3 85 3-12 3-63 3-1 3 60 3 25 3-91 3-46 3 40 3 91 3-2 3-73 3-45 3 53 3 55 3-2 3-52 3-36 3 40 3 53 3 6 3-56 3-42 3 1 3 83 3 41 3-46 3-46 3-43 3 21 3 52 3 26 3 6 3-27 3-36 3-27 3-5 3 38 3 45 3 46 3-15 3-58 3-67 3-16 3 32 3 66 3 24 3-8 3 30 3-6 3-32 3-62 3-34 3 10 3 38 3-4 3 15 3 39 3 36 3 3 3-32 3-17 3 4 3-20 3-57 3-4 3 2 3 2 3-33 3 13 3 58 3 4 3-13 3 40 3 22 3 9 3-10"/>
<path fill="none" stroke="#56B4E9" stroke-width="12" stroke-linejoin="round" d="M1890 6891l3 47 3 71 3-67 3-63 3 37 3 86 3-20 3-101 3-11 3 106 3 48 3-79 3-78 3 48 3 84 3 2 3-76 3-59 3 51 3 88 3-4 3-75 3-53 3 44 3 67 3 17 3-40 3-65 3 0 3 38 3 36 3 27 3-11 3-74 3-59 3 55 3 72 3 22 3-26 3-29 3-45 3-22 3 7 3 88 3 46 3-27 3-28 3-28 3-59 3-32 3 57 3 62 3 9 3 17 3 18 3-35 3-63 3-11 3-15 3-27 3 42 3 45 3 11 3 37 3 42 3-36 3-15 3 4 3-55 3-28 3 19 3-42 3-4 3 37 3-35 3 11 3 36 3-19 3 16 3 49 3-34 3 26 3 30 3-46 3 47 3 6 3-22 3 24 3-17 3-17 3 54 3-47 3 24 3-4 3-22 3 34 3-28 3 0 3 23 3-36 3 22 3 1 3-22 3 18 3-44 3 17 3-31 3-10 3-2 3-32 3 15 3-28 3 9 3 9 3 10 3 46 3-5 3 45 3-13 3 56 3-38 3-10 3-13 3-44 3-25 3-38 3 42 3-27 3 71 3 0 3 78 3-52 3 30 3-76 3-5 3-55 3 33 3 7 3 76 3 9 3 6 3-54 3-16 3-75 3 63 3 3 3 76 3-14 3 15 3-101 3-4 3-7 3 85 3 18 3 5 3-49 3-64 3 21 3 32 3 102 3-69 3-35 3-66 3 58 3 79 3-34 3-8 3-106 3 65 3 53 3 15 3-50 3-77 3 83 3 46 3-18 3-50 3-59 3 124 3 0 3-51 3-44 3 28 3 109 3-67 3-99 3 95 3 42 3-47 3-48 3 20 3 75 3-45 3-74 3 90 3 39 3-121 3 11 3 101 3-44 3-56 3 45 3 53 3-81 3-23 3 91 3-33 3-59 3 70 3 12 3-86 3 67 3 40 3-99 3 39 3 56 3-102 3 55 3 34 3-99 3 51 3 84 3-146 3 70 3 89 3-144 3 50 3 42 3-86 3 94 3-59 3-32 3 138 3-121 3-6 3 82 3-100 3 116 3-55 3-72 3 124 3-94 3 60 3-17 3-67 3 125 3-98 3 83 3-40 3-80 3 127 3-114 3 142 3-108 3 3 3 28 3-58 3 148 3-153 3 133 3-146 3 73 3-16 3 1 3 51 3-65 3 91 3-153 3 145 3-137 3 149 3-127 3 127 3-120 3 82 3-71 3 51 3-53 3 51 3-35 3 47 3-22 3 32 3-48 3 52 3-53 3 43 3-64 3 63 3-85 3 107 3-106 3 109 3-109 3 129 3-102 3 97 3-96 3 66 3-34 3 0 3 34 3-77 3 92 3-110 3 121 3-107 3 58 3-16 3-26 3 78 3-123 3 124 3-99 3 51 3 17 3-78 3 121 3-120 3 80 3 2 3-83 3 123 3-102 3 47 3 28 3-94 3 117 3-61 3-15 3 102 3-118 3 59 3 35 3-110 3 82 3-23 3-78 3 104 3-49 3-30 3 92 3-71 3-26 3 117 3-63 3-39 3 112 3-74 3-50 3 110 3-72 3-71 3 100 3 5 3-94 3 91 3 56 3-114 3 5 3 84 3-76 3-65 3 112 3 34 3-105 3 22 3 79 3-48 3-92 3 74 3 84 3-74 3-52 3 77 3 33 3-90 3-21 3 65 3 69 3-86 3-62 3 45 3 84 3-27 3-89 3 2 3 77 3 29 3-66 3-33 3 44 3 61 3-32 3-65 3-22 3 64 3 41 3-5 3-46 3-51 3 24 3 55 3 41 3-32 3-72 3-30 3 51 3 78 3 17 3-77 3-59 3 12 3 41 3 30 3 23 3 13 3-51 3-80 3-5 3 67 3 39 3 15 3-1 3 8 3-73 3-54 3 23 3 26 3 13 3 39 3 54 3-17 3-48 3-13 3-39 3-40 3 18 3 30 3-9 3 51 3 67 3-34 3 29 3 11 3-55 3-27 3 7 3-75 3-2 3 9 3-28 3 19 3 49 3-34 3 50 3 5 3-8 3 43 3-18 3 5 3 48 3-35 3 27 3-3 3-14 3 41 3-31 3-16 3 33 3-31 3 40 3-24 3 1 3 10 3-32 3 31 3-11 3-18 3 15 3-41 3 47 3-50 3 4 3-19 3-15 3-6 3-36 3 20 3-42 3 27 3-17 3 48 3 5 3 40 3 27 3-4 3 19 3-26 3 27 3-56 3 0 3-84 3 41 3-39 3 64 3-2 3 60 3-5 3 39 3-55 3-21 3-62 3 11 3-38 3 95 3 13 3 55 3-47 3-6 3-81 3 8 3-24 3 101 3 15 3 11 3-61 3-43 3-26 3 44 3 78 3 2 3-22 3-86 3 12 3 7 3 98 3-2 3-50 3-66 3 8 3 93 3 2 3-18 3-80 3-2 3 68 3 42 3-30 3-95 3 53 3 59 3-4 3-58 3-55 3 103 3 34 3-67 3-53 3 20 3 103 3-29 3-98 3 49 3 60 3-23 3-78 3 36 3 81 3-67 3-78 3 122 3-3 3-78 3 3 3 94 3-41 3-66 3 53 3 55 3-101 3 12 3 98 3-71 3-59 3 116 3-28 3-106 3 135 3-13 3-119 3 100 3 24 3-122 3 106 3 30 3-155 3 136 3 2 3-110 3 129 3-49 3-62 3 110 3-100 3 24 3 78 3-134 3 83 3 34 3-106 3 107 3-77 3 15 3 71 3-129 3 113 3-38 3-38 3 87 3-100 3 108 3-76 3-23 3 90 3-90 3 110 3-128 3 87 3-6 3-34 3 47 3-99 3 132 3-98 3 83 3-111 3 57 3 20 3-13 3 32 3-107 3 98 3-93 3 145 3-120 3 91 3-135 3 134 3-90 3 106 3-106 3 71 3-84 3 88 3-66 3 98 3-111 3 91 3-104 3 93 3-96 3 133 3-115 3 107 3-144 3 120 3-114 3 120 3-74 3 58 3-16 3-36 3 48 3-81 3 113 3-145 3 146 3-102 3 79 3-11 3-58 3 100 3-145 3 133 3-97 3 41 3 25 3-78 3 121 3-115 3 75 3-9 3-72 3 132 3-142 3 57 3 41 3-113 3 129 3-71 3-7 3 81 3-123 3 66 3 46 3-133 3 136 3-47 3-60 3 123 3-75 3-35 3 124 3-91 3-26 3 98 3-76 3-38 3 126 3-83 3-38 3 103 3-55 3-67 3 98 3 0 3-125 3 93 3 56 3-99 3 2 3 102 3-36 3-83 3 105 3 20 3-67 3-26 3 86 3-30 3-96 3 24 3 85 3-25 3-71 3 57 3 74 3-54 3-77 3 41 3 66 3-19 3-92 3 24 3 94 3-4 3-73 3-38 3 46 3 61 3-29 3-51 3-16 3 63 3 32 3-53 3-48 3 8 3 66 3 39 3-45 3-54 3-11 3 26 3 56 3 14 3-34 3-35 3-33 3 11 3 79 3 36 3-16 3-64 3-70 3 11 3 70 3 53 3 8 3-21 3-39 3-58 3-20 3 17 3 78 3 41 3-12 3 6 3-31 3-64 3-36 3 23 3 8 3 14 3 66 3 45 3-10 3-18 3 1 3-39 3-51 3-4 3-8 3-18 3 13 3 24 3 3 3 31 3 33 3 2 3 15 3 34 3-27 3 2 3 4 3-22 3 0 3-2 3-42 3 9 3-21 3-10 3 18 3-21 3-11 3 13 3-13 3-7 3 38 3-32 3 11 3 10 3-4 3 17 3-9 3-14 3 54 3-27 3 30 3 2 3 7 3 32 3-33 3 37 3-15 3-13 3 24 3-54 3-6 3-34 3-13 3-12 3-32 3 15 3-7 3 66 3 17 3 22 3 7 3 13 3 14 3-38 3-20 3-52 3-8 3-18 3 33 3 29 3 37 3 29 3-9 3-21 3-75 3-1 3-33 3 72 3 19 3 62 3-28 3-24 3-80 3 4 3 0 3 85 3 20 3 12 3-84 3-24 3-42 3 91 3 38 3 35 3-93 3-27 3-22 3 81 3 44 3-16 3-61 3-60 3 72 3 47 3 28 3-97 3-35 3 40 3 90 3-11 3-112 3 4 3 44 3 82 3-76 3-72 3 63 3 43 3 23 3-111 3-2 3 116 3-33 3-68 3-2 3 85 3 34 3-136 3 25 3 103 3-61 3-62 3 65 3 30 3-38 3-51 3 63 3 47 3-123 3 24 3 111 3-94 3-40 3 136 3-55 3-97 3 121 3 20 3-157 3 106 3 61 3-149 3 66 3 81 3-116 3 27 3 58 3-74 3 48 3 16 3-93 3 117 3-35 3-103 3 142 3-44 3-69 3 101 3-81 3 47 3 34 3-128 3 114 3-27 3-45 3 94 3-132 3 107 3 15 3-78 3 88 3-152 3 122 3-6 3-51 3 81 3-131 3 131 3-50 3 16 3 18 3-104 3 110 3-114 3 157 3-97 3 43 3-34 3-46 3 81 3-72 3 126 3-119 3 121 3-158 3 102 3-88 3 99 3-58 3 70 3-35 3 5 3-48 3 1 3-5 3 4 3 23 3 19 3 14 3 7 3-20 3 6 3-36 3 17 3-50 3 66 3-72 3 88 3-79 3 131 3-126 3 116 3-108 3 89 3-79 3 26 3-17 3-31 3 69 3-115 3 131 3-117 3 84 3-47 3 24 3 63 3-125 3 170 3-153 3 95 3-3 3-85 3 147 3-153 3 103 3-35 3-45 3 129 3-137 3 88 3 17 3-141 3 185 3-127 3-12 3 184 3-225 3 103 3 53 3-217 3 254 3-81 3-164 3 250 3-151 3-116 3 370 3-165 3 4 3 266 3-100 3 75 3 149 3 11 3-30 3 177 3 62 3-100 3 155 3 186 3-147 3-11 3 197 3-73 3-125 3 104 3 108 3-153 3-76 3 173 3-31 3-205 3 39 3 196 3-29 3-141 3 50 3 185 3-73 3-170 3 6 3 144 3-3 3-145 3-10 3 182 3 55 3-118 3-143 3 52 3 119 3 6 3-66 3-51 3 85 3 59 3-35 3-100 3-35 3 89 3 59 3 10 3-74 3-79 3 15 3 88 3 66 3-7 3-85 3-69 3 23 3 66 3 46 3 0 3-48 3-38 3-3 3-23 3 24 3 42 3 54 3 6 3-70 3-72 3-15 3 65 3 36 3-2 3 22 3 31 3-13 3-56 3-61 3 11 3 1 3-11 3 19 3 67 3 41 3-26 3 16 3 13 3-14 3-60 3-21 3 7 3-36 3-22 3 21 3 15 3-20 3 22 3 39 3 0 3 17 3 16 3-2 3 18 3 13 3-5 3-3 3 29 3-9 3-20 3 23 3-8 3-19 3 47 3-26 3-11 3 19 3-20 3-10 3 13 3-27 3 6 3 6 3-36 3 42 3-33 3-21 3 19 3-52 3-2 3 4 3-39 3 35 3-32 3 33 3 15 3-12 3 68 3-16 3 53 3-19 3-9 3 9 3-69 3 21 3-69 3 11 3 7 3 21 3 55 3 5 3 42 3-58 3 18 3-94 3 27 3-37 3 47 3 26 3 55 3-12 3-8 3-68 3-17 3-17 3 60 3 44 3 29 3-44 3-51 3-45 3 25 3 56 3 65 3-40 3-26 3-85 3 50 3 27 3 82 3-80 3-29 3-47 3 80 3 44 3-4 3-81 3-67 3 121 3 15 3 24 3-126 3 8 3 96 3 17 3-32 3-112 3 73 3 60 3-16 3-65 3-35 3 127 3-17 3-103 3 27 3 63 3 28 3-101 3-3 3 103 3-38 3-77 3 42 3 79 3-81 3-31 3 79 3 27 3-109 3 45 3 86 3-99 3-47 3 147 3-72 3-83 3 126 3-23 3-98 3 109 3 15 3-134 3 101 3 44 3-149 3 96 3 58 3-144 3 99 3 50 3-147 3 106 3 29 3-126 3 99 3-27 3-35 3 76 3-105 3 91 3 15 3-136 3 151 3-59 3-50 3 101 3-117 3 114 3-47 3-56 3 128 3-137 3 91 3-54 3 5 3 92 3-165 3 152 3-109 3 91 3-47 3-37 3 103 3-112 3 123 3-147 3 120 3-91 3 79 3-25 3-40 3 60 3-74 3 133 3-146 3 103 3-137 3 168 3-147 3 153 3-147 3 109 3-112 3 130 3-111 3 124 3-143 3 116 3-126 3 154 3-119 3 111 3-124 3 95 3-97 3 103 3-87 3 88 3-71 3 46 3-28 3-13 3 44 3-65 3 99 3-95 3 91 3-91 3 72 3-52 3 2 3 61 3-101 3 122 3-110 3 76 3-12 3-50 3 91 3-138 3 112 3-46 3-33 3 103 3-128 3 100 3-20 3-63 3 135 3-118 3 45 3 29 3-110 3 126 3-53 3-64 3 109 3-76 3-22 3 105 3-102 3 25 3 67 3-120 3 52 3 71 3-120 3 50 3 79 3-123 3 52 3 66 3-92 3-6 3 102 3-89 3-45 3 116 3-23 3-98 3 71 3 47 3-104 3 3 3 119 3-38 3-89 3 67 3 79 3-91 3-19 3 82 3 26 3-93 3-17 3 102 3-9 3-107 3-4 3 86 3 22 3-107 3-9 3 91 3 45 3-63 3-66 3 42 3 76 3-28 3-78 3-33 3 82 3 51 3-22 3-67 3-1 3 49 3 41 3-22 3-85 3-12 3 62 3 57 3 16 3-52 3-66 3-34 3 54 3 80 3 15 3-30 3-78 3-42 3 34 3 52 3 59 3-9 3-47 3-34 3-13 3 1 3 10 3 50 3 37 3 17 3-26 3-80 3-25 3-13 3 42 3 2 3 26 3 62 3 26 3-15 3-57 3-24 3 4 3-49 3-44 3 34 3 48 3-6 3-3 3 60 3 19 3-23 3 9 3 28 3-36 3-12 3 22 3-31 3-38 3 24 3-14 3-41 3 20 3 5 3-39 3 28 3 11 3-48 3 34 3 1 3-25 3 26 3-18 3-19 3 40 3-16 3-24 3 44 3-27 3 17 3 9 3-26 3 48 3-31 3 22 3 47 3-26 3 59 3-26 3 33 3 14 3-24 3 34 3-60 3 15 3-63 3-4 3-42 3-22 3 41 3-18 3 63 3-1 3 93 3-29 3 29 3-57 3-25 3-49 3-27 3 6 3 20 3 57 3 32 3 55 3-73 3-5 3-82 3 11 3-11 3 74 3 34 3 23 3-28 3-81 3-5 3-21 3 86 3 1 3 59 3-92 3-8 3-70 3 99 3 9 3 58 3-63 3-81 3 17 3 35 3 85 3-42 3-60 3-32 3 39 3 108 3-60 3-42 3-53 3 73 3 78 3-73 3-42 3-25 3 87 3 34 3-90 3-21 3 77 3 8 3-15 3-73 3 45 3 81 3-78 3-56 3 75 3 26 3-41 3-57 3 59 3 65 3-89 3-52 3 137 3-17 3-128 3 81 3 71 3-120 3-4 3 137 3-80 3-74 3 113 3 7 3-126 3 92 3 53 3-138 3 40 3 101 3-117 3 19 3 84 3-72 3-10 3 76 3-108 3 64 3 48 3-141 3 109 3 38 3-129 3 111 3-36 3-50 3 114 3-137 3 59 3 67 3-130 3 123 3-73 3-23 3 127 3-158 3 120 3-61 3-31 3 138 3-152 3 109 3-81 3 13 3 75 3-115 3 124 3-128 3 95 3-45 3 1 3 59 3-114 3 120 3-120 3 130 3-100 3 82 3-65 3 6 3 23 3-29 3 58 3-63 3 65 3-89 3 81 3-92 3 112 3-93 3 113 3-112 3 96 3-103 3 75 3-81 3 98 3-81 3 96 3-101 3 81 3-92 3 69 3-60 3 54 3-9 3 8 3 13 3-37 3 76 3-96 3 94 3-138 3 127 3-120 3 99 3-40 3-10 3 51 3-90 3 146 3-123 3 98 3-61 3-15 3 91 3-151 3 138 3-91 3 8 3 53 3-118 3 132 3-87 3-4 3 90 3-134 3 118 3-34 3-73 3 135 3-124 3 38 3 77 3-127 3 90 3-1 3-108 3 124 3-27 3-80 3 108 3-37 3-61 3 108 3-51 3-68 3 128 3-28 3-66 3 92 3 5 3-80 3 82 3 10 3-95 3 33 3 55 3-95 3-21 3 87 3-20 3-66 3 65 3 76 3-82 3-26 3 73 3-6 3-108 3 9 3 78 3 5 3-65 3 41 3 73 3-54 3-82 3 16 3 90 3 2 3-70 3-1 3 65 3 0 3-79 3-13 3 56 3 79 3-41 3-93 3-13 3 80 3 68 3-48 3-85 3-16 3 66 3 73 3-25 3-89 3-51 3 70 3 90 3 14 3-81 3-45 3 1 3 25 3 43 3 14 3 15 3-59 3-61 3-17 3 86 3 65 3-17 3-30 3-25 3-32 3-46 3 24 3 84 3 17 3-6 3 18 3-16 3-72 3-26 3 21 3-18 3 29 3 64 3 16 3-3 3 11 3-8 3-54 3-36 3 13 3-68 3 24 3 34 3-17 3 22 3 41 3 12 3 6 3 46 3-26 3 6 3 11 3-35 3 24 3-8 3-50 3 26 3-22 3-7 3 5 3-11 3-11 3 10 3-31 3 23 3-8 3-10 3 25 3-35 3 26 3 6 3-20 3 41 3-20 3 32 3 12 3-21 3 31 3-10 3 25 3 4 3-6 3 14 3-31 3 9 3-23 3-28 3-6 3-42 3 7 3-22 3 24 3 2 3 30 3 41 3 13 3 31 3-15 3 10 3-72 3-8 3-64 3 20 3 15 3 40 3 39 3 27 3 5 3-41 3-45 3-48 3 11 3 10 3 72 3 16 3 32 3-65 3-34 3-46 3 43 3 36 3 66 3-33 3-38 3-52 3-3 3 44 3 67 3-2 3-79 3-19 3-16 3 89 3 18 3 0 3-122 3 49 3 18 3 75 3-34 3-81 3 5 3 34 3 91 3-95 3-26 3-9 3 93 3 5 3-116 3 24 3 47 3 47 3-75 3-55 3 120 3-7 3-37 3-70 3 85 3 67 3-138 3 16 3 82 3-9 3-74 3 10 3 113 3-82 3-92 3 128 3 20 3-126 3 65 3 65 3-91 3-20 3 118 3-49 3-77 3 108 3-30 3-97 3 106 3-2 3-101 3 115 3-7 3-93 3 93 3-16 3-69 3 101 3-52 3-45 3 111 3-112 3 13 3 104 3-135 3 71 3 38 3-106 3 94 3-53 3 13 3 55 3-121 3 131 3-52 3-43 3 93 3-103 3 89 3-69 3 16 3 76 3-122 3 107 3-94 3 94 3-41 3-54 3 74 3-56 3 101 3-154 3 109 3-46 3 53 3-39 3-22 3 43 3-48 3 103 3-135 3 110 3-114 3 153 3-131 3 108 3-147 3 137 3-105 3 141 3-139 3 102 3-140 3 147 3-110 3 140 3-133 3 99 3-140 3 150 3-122 3 153 3-135 3 87 3-99 3 46 3-3 3 2 3 61 3-75 3 87 3-135 3 127 3-120 3 70 3-11 3-16 3 93 3-120 3 114 3-117 3 55 3-14 3-64 3 125 3-107 3 97 3-25 3-37 3 95 3-122 3 66 3 8 3-93 3 116 3-94 3 26 3 49 3-113 3 98 3 5 3-94 3 134 3-62 3-41 3 126 3-92 3-18 3 118 3-119 3 14 3 101 3-128 3 0 3 110 3-89 3-29 3 118 3-54 3-73 3 118 3-31 3-100 3 93 3 48 3-121 3 27 3 102 3-62 3-72 3 91 3 37 3-98 3-2 3 97 3-34 3-98 3 35 3 78 3-56 3-76 3 46 3 82 3-31 3-86 3 50 3 91 3-12 3-86 3-15 3 77 3 8 3-73 3-61 3 47 3 90 3 5 3-56 3-17 3 29 3 43 3-36 3-68 3-5 3 37 3 71 3 20 3-59 3-74 3-6 3 64 3 50 3 11 3-33 3-68 3-30 3 35 3 74 3 41 3-22 3-84 3-43 3 17 3 37 3 73 3-5 3-12 3-26 3-18 3-32 3-43 3 25 3 67 3 55 3 11 3-30 3-26 3-18 3-42 3-36 3 0 3 33 3 47 3 6 3 15 3 25 3 22 3-14 3-31 3 0 3-9 3-59 3 7 3 4 3-35 3-14 3 39 3 10 3-31 3 17 3 40 3-21 3 19 3 28 3-14 3 0 3 52 3-45 3-7 3 41 3-26 3-15 3 25 3-15 3-3 3 26 3-25 3-10 3 25 3-56 3 23 3-15 3-32 3 22 3-39 3 0 3 12 3-31 3 59 3-30 3 29 3 48 3-12 3 57 3-36 3 49 3-29 3-5 3-8 3-64 3 1 3-63 3 45 3-14 3 45 3 32 3 44 3 10 3-29 3-7 3-63 3-7 3-54 3 71 3 8 3 63 3-19 3 15 3-64 3-9 3-44 3 56 3 19 3 53 3-28 3-47 3-24 3-23 3 68 3 21 3 55 3-90 3-15 3-40 3 64 3 53 3-9 3-27 3-93 3 48 3 30 3 44 3-12 3-87 3 11 3 32 3 61 3-24 3-96 3 31 3 72 3 8 3-53 3-60 3 58 3 82 3-76 3-52 3 52 3 44 3-23 3-49 3-26 3 111 3-12 3-116 3 41 3 110 3-72 3-77 3 87 3 60 3-112 3-16 3 105 3-38 3-77 3 70 3 40 3-92 3 1 3 121 3-88 3-64 3 127"/>
</g>
<rect x="189.0" y="12.1" width="724.0" height="844.8" fill="none" stroke="#000" stroke-width="4.0"/>
<path d="M189.0,434.8H913.0" stroke="#000" stroke-width="4.0"/>
<g font-family="'Liberation Sans', Arial, Helvetica, sans-serif" font-size="33.7" fill="#000" stroke="#000" stroke-width="0.6" stroke-linejoin="round">
<text transform="translate(168.8,422.8) scale(1,1.024)" text-anchor="end">0.006</text>
<text transform="translate(168.8,373.0) scale(1,1.024)" text-anchor="end">0.008</text>
<text transform="translate(168.8,323.2) scale(1,1.024)" text-anchor="end">0.01</text>
<text transform="translate(168.8,273.3) scale(1,1.024)" text-anchor="end">0.012</text>
<text transform="translate(168.8,223.5) scale(1,1.024)" text-anchor="end">0.014</text>
<text transform="translate(168.8,173.7) scale(1,1.024)" text-anchor="end">0.016</text>
<text transform="translate(168.8,123.8) scale(1,1.024)" text-anchor="end">0.018</text>
<text transform="translate(168.8,74.0) scale(1,1.024)" text-anchor="end">0.02</text>
<text transform="translate(168.8,24.2) scale(1,1.024)" text-anchor="end">0.022</text>
<text transform="translate(168.8,869.0) scale(1,1.024)" text-anchor="end">0</text>
<text transform="translate(168.8,815.9) scale(1,1.024)" text-anchor="end">0.1</text>
<text transform="translate(168.8,762.8) scale(1,1.024)" text-anchor="end">0.2</text>
<text transform="translate(168.8,709.7) scale(1,1.024)" text-anchor="end">0.3</text>
<text transform="translate(168.8,656.6) scale(1,1.024)" text-anchor="end">0.4</text>
<text transform="translate(168.8,603.4) scale(1,1.024)" text-anchor="end">0.5</text>
<text transform="translate(168.8,550.3) scale(1,1.024)" text-anchor="end">0.6</text>
<text transform="translate(168.8,497.2) scale(1,1.024)" text-anchor="end">0.7</text>
<text transform="translate(193.5,902.0) scale(1,1.024)" text-anchor="middle">0</text>
<text transform="translate(374.5,902.0) scale(1,1.024)" text-anchor="middle">0.5</text>
<text transform="translate(555.5,902.0) scale(1,1.024)" text-anchor="middle">1</text>
<text transform="translate(736.5,902.0) scale(1,1.024)" text-anchor="middle">1.5</text>
<text transform="translate(917.5,902.0) scale(1,1.024)" text-anchor="middle">2</text>
</g>
<g font-family="'Liberation Sans', Arial, Helvetica, sans-serif" font-size="42.2" fill="#000" stroke="#000" stroke-width="0.7" stroke-linejoin="round">
<text transform="translate(550.9,954.8) scale(1,1.0)" text-anchor="middle">Time in Myr</text>
<text transform="translate(29.6,223.0) rotate(-90) scale(1,1.0)" text-anchor="middle" font-size="41.7">Eccentricity</text>
<text transform="translate(70.7,645.5) rotate(-90) scale(1,1.0)" text-anchor="middle" font-size="41.7">Inclination (°)</text>
</g>
</svg>
</body></html>
